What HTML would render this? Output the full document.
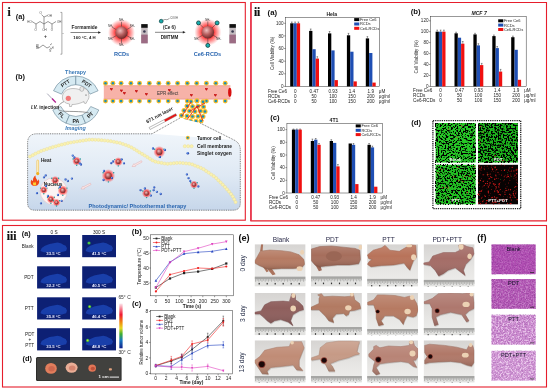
<!DOCTYPE html>
<html><head><meta charset="utf-8"><style>
html,body{margin:0;padding:0;background:#fff;width:550px;height:390px;overflow:hidden}
svg{display:block}
</style></head><body>
<svg width="550" height="390" viewBox="0 0 550 390" font-family="Liberation Sans, sans-serif">
<rect width="550" height="390" fill="#fff"/>
<defs><radialGradient id="glow"><stop offset="0" stop-color="#ff1010" stop-opacity="1"/><stop offset="0.5" stop-color="#ff2020" stop-opacity="0.8"/><stop offset="0.8" stop-color="#ff4040" stop-opacity="0.35"/><stop offset="1" stop-color="#ff6060" stop-opacity="0"/></radialGradient><radialGradient id="sph" cx="0.4" cy="0.35" r="0.75"><stop offset="0" stop-color="#f0c0c0"/><stop offset="0.45" stop-color="#b86060"/><stop offset="1" stop-color="#5a1818"/></radialGradient><radialGradient id="bd" cx="0.35" cy="0.35" r="0.7"><stop offset="0" stop-color="#70a8ff"/><stop offset="1" stop-color="#102890"/></radialGradient><linearGradient id="cellbg" x1="0" y1="0" x2="0" y2="1"><stop offset="0" stop-color="#f4f8fc"/><stop offset="0.6" stop-color="#dfe9f4"/><stop offset="1" stop-color="#c6d6ea"/></linearGradient></defs>
<text x="7.4" y="16.2" font-size="11.6" text-anchor="start" font-weight="bold" fill="#111" style="font-family:Liberation Serif,serif" stroke="#111" stroke-width="0.2">i</text>
<text x="15.8" y="19.2" font-size="7.4" text-anchor="start" font-weight="bold" fill="#111" >(a)</text>
<path d="M32,21.5 L36,24 L40,21.5 L44,24 L48,21.5 L52,24 L56,21.5 M36,24 V28.3 M44,24 L44,17 M44,24 L44,28 M52,24 V28.3 M44,17 L47.5,15.5 M44,17 L41.5,14.6" stroke="#444" stroke-width="0.55" fill="none"/>
<text x="27.3" y="23.0" font-size="2.9" text-anchor="start" font-weight="normal" fill="#444" >HO</text>
<text x="57.0" y="23.0" font-size="2.9" text-anchor="start" font-weight="normal" fill="#444" >OH</text>
<text x="34.6" y="31.0" font-size="2.9" text-anchor="start" font-weight="normal" fill="#444" >O</text>
<text x="50.8" y="31.0" font-size="2.9" text-anchor="start" font-weight="normal" fill="#444" >O</text>
<text x="42.2" y="31.0" font-size="2.9" text-anchor="start" font-weight="normal" fill="#444" >OH</text>
<text x="47.6" y="16.6" font-size="2.9" text-anchor="start" font-weight="normal" fill="#444" >OH</text>
<text x="39.6" y="14.4" font-size="2.9" text-anchor="start" font-weight="normal" fill="#444" >O</text>
<text x="45.4" y="38.2" font-size="5" text-anchor="middle" font-weight="bold" fill="#333" >+</text>
<path d="M36,46 L39,48 L43,45 L47,48 L50,46.5 M38,44 V49 M36.8,44 V49 M50,45 L52,43.5 M50,48 L52,49" stroke="#444" stroke-width="0.55" fill="none"/>
<text x="49.3" y="52.0" font-size="2.8" text-anchor="start" font-weight="normal" fill="#555" >N</text>
<text x="51.8" y="48.5" font-size="2.6" text-anchor="start" font-weight="normal" fill="#555" >H</text>
<path d="M60.4,12.4 H61.9 V54.2 H60.4" stroke="#555" stroke-width="0.5" fill="none"/>
<text x="62.6" y="33.8" font-size="2.4" text-anchor="start" font-weight="normal" fill="#555" >n</text>
<text x="84.4" y="28.8" font-size="4.8" text-anchor="middle" font-weight="bold" fill="#222" >Formamide</text>
<path d="M70.5,32.5 H99" stroke="#333" stroke-width="0.6"/><path d="M101,32.5 L98.2,31.2 L98.2,33.8Z" fill="#222"/>
<text x="84.5" y="39.0" font-size="4.3" text-anchor="middle" font-weight="bold" fill="#222" >160 °C, 4 H</text>
<circle cx="121.5" cy="32.6" r="13.5" fill="url(#glow)"/>
<line x1="121.5" y1="32.6" x2="121.5" y2="21.8" stroke="#333" stroke-width="0.5"/>
<text x="121.5" y="21.0" font-size="2.8" text-anchor="middle" font-weight="normal" fill="#333" >NH₂</text>
<line x1="121.5" y1="32.6" x2="130.9" y2="27.2" stroke="#333" stroke-width="0.5"/>
<text x="132.4" y="27.3" font-size="2.8" text-anchor="middle" font-weight="normal" fill="#333" >NH₂</text>
<line x1="121.5" y1="32.6" x2="130.9" y2="38.0" stroke="#333" stroke-width="0.5"/>
<text x="132.4" y="39.9" font-size="2.8" text-anchor="middle" font-weight="normal" fill="#333" >NH₂</text>
<line x1="121.5" y1="32.6" x2="121.5" y2="43.4" stroke="#333" stroke-width="0.5"/>
<text x="121.5" y="46.2" font-size="2.8" text-anchor="middle" font-weight="normal" fill="#333" >NH₂</text>
<line x1="121.5" y1="32.6" x2="112.1" y2="38.0" stroke="#333" stroke-width="0.5"/>
<text x="110.6" y="39.9" font-size="2.8" text-anchor="middle" font-weight="normal" fill="#333" >NH₂</text>
<line x1="121.5" y1="32.6" x2="112.1" y2="27.2" stroke="#333" stroke-width="0.5"/>
<text x="110.6" y="27.3" font-size="2.8" text-anchor="middle" font-weight="normal" fill="#333" >NH₂</text>
<circle cx="121.5" cy="32.6" r="6.3" fill="url(#sph)"/>
<text x="121.6" y="56.4" font-size="5.6" text-anchor="middle" font-weight="bold" fill="#2a66b0" >RCDs</text>
<rect x="141.2" y="24.1" width="6.5" height="3.8" fill="#111"/>
<rect x="141.2" y="27.900000000000002" width="6.5" height="15.4" fill="#c4bcc0"/>
<rect x="141.2" y="34.6" width="6.5" height="8.7" fill="#9c6c84"/>
<circle cx="144.39999999999998" cy="31.5" r="1.3" fill="#3a3a50"/>
<path d="M162.5,20.4 L165,19.4 L167,19.8 L169.5,18.4" stroke="#444" stroke-width="0.5" fill="none"/>
<circle cx="161.2" cy="21.2" r="1.9" fill="#1aa8a8" stroke="#083838" stroke-width="0.6"/>
<text x="170.2" y="18.8" font-size="2.6" text-anchor="start" font-weight="normal" fill="#444" >COOH</text>
<text x="169.3" y="29.4" font-size="4.6" text-anchor="middle" font-weight="bold" fill="#222" >(Ce 6)</text>
<path d="M155,32.3 H183.5" stroke="#333" stroke-width="0.6"/><path d="M185.6,32.3 L182.8,31 L182.8,33.6Z" fill="#222"/>
<text x="169.5" y="38.6" font-size="4.6" text-anchor="middle" font-weight="bold" fill="#222" >DMTMM</text>
<circle cx="207.8" cy="32.2" r="13.5" fill="url(#glow)"/>
<line x1="207.8" y1="32.2" x2="207.8" y2="21.4" stroke="#333" stroke-width="0.5"/>
<text x="207.8" y="20.6" font-size="2.8" text-anchor="middle" font-weight="normal" fill="#333" >NH₂</text>
<line x1="207.8" y1="32.2" x2="217.1" y2="22.9" stroke="#333" stroke-width="0.5"/>
<circle cx="217.1" cy="22.9" r="2.0" fill="#18b0b0" stroke="#062a2a" stroke-width="0.7"/>
<line x1="207.8" y1="32.2" x2="198.5" y2="22.9" stroke="#333" stroke-width="0.5"/>
<circle cx="198.5" cy="22.9" r="2.0" fill="#18b0b0" stroke="#062a2a" stroke-width="0.7"/>
<line x1="207.8" y1="32.2" x2="217.2" y2="37.6" stroke="#333" stroke-width="0.5"/>
<text x="218.7" y="39.5" font-size="2.8" text-anchor="middle" font-weight="normal" fill="#333" >NH₂</text>
<line x1="207.8" y1="32.2" x2="207.8" y2="45.4" stroke="#333" stroke-width="0.5"/>
<circle cx="207.8" cy="45.4" r="2.0" fill="#18b0b0" stroke="#062a2a" stroke-width="0.7"/>
<line x1="207.8" y1="32.2" x2="198.4" y2="37.6" stroke="#333" stroke-width="0.5"/>
<text x="196.9" y="39.5" font-size="2.8" text-anchor="middle" font-weight="normal" fill="#333" >NH₂</text>
<circle cx="207.8" cy="32.2" r="6.3" fill="url(#sph)"/>
<text x="207.4" y="56.4" font-size="5.6" text-anchor="middle" font-weight="bold" fill="#2a66b0" >Ce6-RCDs</text>
<rect x="229.4" y="24.1" width="6.5" height="3.8" fill="#111"/>
<rect x="229.4" y="27.900000000000002" width="6.5" height="15.4" fill="#c4bcc0"/>
<rect x="229.4" y="34.6" width="6.5" height="8.7" fill="#9c6c84"/>
<circle cx="232.6" cy="31.5" r="1.3" fill="#3a3a50"/>
<text x="15.5" y="79.3" font-size="7.4" text-anchor="start" font-weight="bold" fill="#111" >(b)</text>
<path d="M53.52,90.74 A24.2,24.2 0 0 1 75.80,76.00 L75.80,84.70 A15.5,15.5 0 0 0 61.53,94.14 Z" fill="#d6eaf2" stroke="#58788a" stroke-width="0.55"/>
<path d="M75.80,76.00 A24.2,24.2 0 0 1 98.08,90.74 L90.07,94.14 A15.5,15.5 0 0 0 75.80,84.70 Z" fill="#d6eaf2" stroke="#58788a" stroke-width="0.55"/>
<path d="M52.79,109.97 A25.0,25.0 0 0 0 66.03,123.21 L69.47,115.11 A16.2,16.2 0 0 1 60.89,106.53 Z" fill="#d6eaf2" stroke="#58788a" stroke-width="0.55"/>
<path d="M66.03,123.21 A25.0,25.0 0 0 0 85.57,123.21 L82.13,115.11 A16.2,16.2 0 0 1 69.47,115.11 Z" fill="#d6eaf2" stroke="#58788a" stroke-width="0.55"/>
<path d="M85.57,123.21 A25.0,25.0 0 0 0 98.81,109.97 L90.71,106.53 A16.2,16.2 0 0 1 82.13,115.11 Z" fill="#d6eaf2" stroke="#58788a" stroke-width="0.55"/>
<text x="0" y="0" font-size="5.2" font-weight="bold" text-anchor="middle" fill="#222" transform="translate(65.3,83.4) rotate(-33)" dy="1.8">PTT</text>
<text x="0" y="0" font-size="5.2" font-weight="bold" text-anchor="middle" fill="#222" transform="translate(86.6,83.6) rotate(33)" dy="1.8">PDT</text>
<text x="0" y="0" font-size="5.2" font-weight="bold" text-anchor="middle" fill="#222" transform="translate(61.5,115.0) rotate(45)" dy="1.8">FL</text>
<text x="0" y="0" font-size="5.2" font-weight="bold" text-anchor="middle" fill="#222" transform="translate(75.8,120.8) rotate(0)" dy="1.8">PA</text>
<text x="0" y="0" font-size="5.2" font-weight="bold" text-anchor="middle" fill="#222" transform="translate(90.1,115.0) rotate(-45)" dy="1.8">PT</text>
<text x="75.6" y="74.2" font-size="5.4" text-anchor="middle" font-weight="bold" fill="#3a7ab8" >Therapy</text>
<text x="75.6" y="129.6" font-size="5.4" text-anchor="middle" font-weight="bold" fill="#3a7ab8" font-style="italic" >Imaging</text>
<path d="M64,101.5 C59,104 56.5,107.5 58.5,109.8 C61.5,112.5 76,110.5 87,112.5 C90.5,113.2 91.5,115 90,116.5" stroke="#777" stroke-width="0.75" fill="none"/>
<path d="M62.5,99 C61.5,93 66,88.5 73,88.5 C77,88.5 79.5,89.5 81.5,90.5 L84,88.5 C86.5,88.5 88.5,91 88.5,93.5 C89.5,96 89,99 87.5,100.5 L86,103.5 L84,103 L84,101.5 C80,103.5 76,104.5 72,104.5 L71.5,106.5 L69.5,106.5 L69.5,104 C65.5,103.5 63,101.5 62.5,99Z" fill="#f0f0f0" stroke="#8a8a8a" stroke-width="0.5"/>
<ellipse cx="81.8" cy="88.9" rx="2.0" ry="2.5" fill="#e8e8e8" stroke="#8a8a8a" stroke-width="0.45"/>
<circle cx="86" cy="95" r="0.6" fill="#333"/>
<circle cx="68.3" cy="98.3" r="2.6" fill="#f26a6a" opacity="0.9"/>
<path d="M47.2,93.6 L52,98.6" stroke="#a0a0b0" stroke-width="0.9"/><path d="M52,98.6 L55.8,102.4" stroke="#b02090" stroke-width="1.4"/>
<text x="45.1" y="108.6" font-size="4.9" text-anchor="middle" font-weight="bold" fill="#222" ><tspan font-style="italic">I.V.</tspan> injection</text>
<rect x="103.8" y="85.5" width="126.5" height="14" fill="#f7b2a8"/>
<rect x="103.8" y="85.3" width="126.5" height="1.2" fill="#f0a8a0"/><rect x="103.8" y="98.1" width="126.5" height="1.2" fill="#f0a8a0"/>
<ellipse cx="229.8" cy="92.3" rx="1.7" ry="4.6" fill="#d81010"/>
<circle cx="105.5" cy="83.2" r="2.45" fill="#f8bc28"/><circle cx="105.5" cy="83.2" r="1.27" fill="#1a8fb5"/>
<circle cx="105.5" cy="101.1" r="2.45" fill="#f8bc28"/><circle cx="105.5" cy="101.1" r="1.27" fill="#1a8fb5"/>
<circle cx="112.9" cy="83.2" r="2.45" fill="#f8bc28"/><circle cx="112.9" cy="83.2" r="1.27" fill="#1a8fb5"/>
<circle cx="112.9" cy="101.1" r="2.45" fill="#f8bc28"/><circle cx="112.9" cy="101.1" r="1.27" fill="#1a8fb5"/>
<circle cx="121.1" cy="83.2" r="2.45" fill="#f8bc28"/><circle cx="121.1" cy="83.2" r="1.27" fill="#1a8fb5"/>
<circle cx="121.1" cy="101.1" r="2.45" fill="#f8bc28"/><circle cx="121.1" cy="101.1" r="1.27" fill="#1a8fb5"/>
<circle cx="130.9" cy="83.2" r="2.45" fill="#f8bc28"/><circle cx="130.9" cy="83.2" r="1.27" fill="#1a8fb5"/>
<circle cx="130.9" cy="101.1" r="2.45" fill="#f8bc28"/><circle cx="130.9" cy="101.1" r="1.27" fill="#1a8fb5"/>
<circle cx="139.5" cy="83.2" r="2.45" fill="#f8bc28"/><circle cx="139.5" cy="83.2" r="1.27" fill="#1a8fb5"/>
<circle cx="139.5" cy="101.1" r="2.45" fill="#f8bc28"/><circle cx="139.5" cy="101.1" r="1.27" fill="#1a8fb5"/>
<circle cx="149.3" cy="83.2" r="2.45" fill="#f8bc28"/><circle cx="149.3" cy="83.2" r="1.27" fill="#1a8fb5"/>
<circle cx="149.3" cy="101.1" r="2.45" fill="#f8bc28"/><circle cx="149.3" cy="101.1" r="1.27" fill="#1a8fb5"/>
<circle cx="158.8" cy="83.2" r="2.45" fill="#f8bc28"/><circle cx="158.8" cy="83.2" r="1.27" fill="#1a8fb5"/>
<circle cx="158.8" cy="101.1" r="2.45" fill="#f8bc28"/><circle cx="158.8" cy="101.1" r="1.27" fill="#1a8fb5"/>
<circle cx="168.2" cy="83.2" r="2.45" fill="#f8bc28"/><circle cx="168.2" cy="83.2" r="1.27" fill="#1a8fb5"/>
<circle cx="168.2" cy="101.1" r="2.45" fill="#f8bc28"/><circle cx="168.2" cy="101.1" r="1.27" fill="#1a8fb5"/>
<circle cx="177.6" cy="83.2" r="2.45" fill="#f8bc28"/><circle cx="177.6" cy="83.2" r="1.27" fill="#1a8fb5"/>
<circle cx="177.6" cy="101.1" r="2.45" fill="#f8bc28"/><circle cx="177.6" cy="101.1" r="1.27" fill="#1a8fb5"/>
<circle cx="187.3" cy="83.2" r="2.45" fill="#f8bc28"/><circle cx="187.3" cy="83.2" r="1.27" fill="#1a8fb5"/>
<circle cx="187.3" cy="101.1" r="2.45" fill="#f8bc28"/><circle cx="187.3" cy="101.1" r="1.27" fill="#1a8fb5"/>
<circle cx="196.7" cy="83.2" r="2.45" fill="#f8bc28"/><circle cx="196.7" cy="83.2" r="1.27" fill="#1a8fb5"/>
<circle cx="196.7" cy="101.1" r="2.45" fill="#f8bc28"/><circle cx="196.7" cy="101.1" r="1.27" fill="#1a8fb5"/>
<circle cx="206.4" cy="83.2" r="2.45" fill="#f8bc28"/><circle cx="206.4" cy="83.2" r="1.27" fill="#1a8fb5"/>
<circle cx="206.4" cy="101.1" r="2.45" fill="#f8bc28"/><circle cx="206.4" cy="101.1" r="1.27" fill="#1a8fb5"/>
<circle cx="215.8" cy="83.2" r="2.45" fill="#f8bc28"/><circle cx="215.8" cy="83.2" r="1.27" fill="#1a8fb5"/>
<circle cx="215.8" cy="101.1" r="2.45" fill="#f8bc28"/><circle cx="215.8" cy="101.1" r="1.27" fill="#1a8fb5"/>
<circle cx="225.2" cy="83.2" r="2.45" fill="#f8bc28"/><circle cx="225.2" cy="83.2" r="1.27" fill="#1a8fb5"/>
<circle cx="225.2" cy="101.1" r="2.45" fill="#f8bc28"/><circle cx="225.2" cy="101.1" r="1.27" fill="#1a8fb5"/>
<path d="M110,89 l1.4,1.8 l1.4,-1.8 a0.8,0.8 0 0 0 -1.4,-0.7 a0.8,0.8 0 0 0 -1.4,0.7z" fill="#c81818"/>
<path d="M123,93 l1.4,1.8 l1.4,-1.8 a0.8,0.8 0 0 0 -1.4,-0.7 a0.8,0.8 0 0 0 -1.4,0.7z" fill="#c81818"/>
<path d="M135,91 l1.4,1.8 l1.4,-1.8 a0.8,0.8 0 0 0 -1.4,-0.7 a0.8,0.8 0 0 0 -1.4,0.7z" fill="#c81818"/>
<path d="M145,94 l1.4,1.8 l1.4,-1.8 a0.8,0.8 0 0 0 -1.4,-0.7 a0.8,0.8 0 0 0 -1.4,0.7z" fill="#c81818"/>
<path d="M168,90 l1.4,1.8 l1.4,-1.8 a0.8,0.8 0 0 0 -1.4,-0.7 a0.8,0.8 0 0 0 -1.4,0.7z" fill="#c81818"/>
<path d="M190,95 l1.4,1.8 l1.4,-1.8 a0.8,0.8 0 0 0 -1.4,-0.7 a0.8,0.8 0 0 0 -1.4,0.7z" fill="#c81818"/>
<path d="M205,89 l1.4,1.8 l1.4,-1.8 a0.8,0.8 0 0 0 -1.4,-0.7 a0.8,0.8 0 0 0 -1.4,0.7z" fill="#c81818"/>
<path d="M214,95 l1.4,1.8 l1.4,-1.8 a0.8,0.8 0 0 0 -1.4,-0.7 a0.8,0.8 0 0 0 -1.4,0.7z" fill="#c81818"/>
<path d="M120,90.5 l1.4,1.8 l1.4,-1.8 a0.8,0.8 0 0 0 -1.4,-0.7 a0.8,0.8 0 0 0 -1.4,0.7z" fill="#c81818"/>
<text x="167.6" y="94.9" font-size="4.5" text-anchor="middle" font-weight="normal" fill="#333" >EPR effect</text>
<circle cx="191.0" cy="101.5" r="2.5" fill="#f8bc28"/><circle cx="191.0" cy="101.5" r="1.30" fill="#1a8fb5"/>
<circle cx="197.0" cy="100.8" r="2.5" fill="#f8bc28"/><circle cx="197.0" cy="100.8" r="1.30" fill="#1a8fb5"/>
<circle cx="203.0" cy="101.8" r="2.5" fill="#f8bc28"/><circle cx="203.0" cy="101.8" r="1.30" fill="#1a8fb5"/>
<circle cx="187.0" cy="106.0" r="2.5" fill="#f8bc28"/><circle cx="187.0" cy="106.0" r="1.30" fill="#1a8fb5"/>
<circle cx="192.5" cy="106.5" r="2.5" fill="#f8bc28"/><circle cx="192.5" cy="106.5" r="1.30" fill="#1a8fb5"/>
<circle cx="198.0" cy="106.2" r="2.5" fill="#f8bc28"/><circle cx="198.0" cy="106.2" r="1.30" fill="#1a8fb5"/>
<circle cx="203.5" cy="106.8" r="2.5" fill="#f8bc28"/><circle cx="203.5" cy="106.8" r="1.30" fill="#1a8fb5"/>
<circle cx="184.0" cy="110.5" r="2.5" fill="#f8bc28"/><circle cx="184.0" cy="110.5" r="1.30" fill="#1a8fb5"/>
<circle cx="189.5" cy="111.0" r="2.5" fill="#f8bc28"/><circle cx="189.5" cy="111.0" r="1.30" fill="#1a8fb5"/>
<circle cx="195.0" cy="111.5" r="2.5" fill="#f8bc28"/><circle cx="195.0" cy="111.5" r="1.30" fill="#1a8fb5"/>
<circle cx="200.5" cy="111.0" r="2.5" fill="#f8bc28"/><circle cx="200.5" cy="111.0" r="1.30" fill="#1a8fb5"/>
<circle cx="205.0" cy="111.5" r="2.5" fill="#f8bc28"/><circle cx="205.0" cy="111.5" r="1.30" fill="#1a8fb5"/>
<circle cx="181.5" cy="115.5" r="2.5" fill="#f8bc28"/><circle cx="181.5" cy="115.5" r="1.30" fill="#1a8fb5"/>
<circle cx="187.0" cy="116.0" r="2.5" fill="#f8bc28"/><circle cx="187.0" cy="116.0" r="1.30" fill="#1a8fb5"/>
<circle cx="192.5" cy="116.5" r="2.5" fill="#f8bc28"/><circle cx="192.5" cy="116.5" r="1.30" fill="#1a8fb5"/>
<circle cx="198.0" cy="116.2" r="2.5" fill="#f8bc28"/><circle cx="198.0" cy="116.2" r="1.30" fill="#1a8fb5"/>
<circle cx="203.0" cy="116.5" r="2.5" fill="#f8bc28"/><circle cx="203.0" cy="116.5" r="1.30" fill="#1a8fb5"/>
<circle cx="185.0" cy="120.5" r="2.5" fill="#f8bc28"/><circle cx="185.0" cy="120.5" r="1.30" fill="#1a8fb5"/>
<circle cx="190.5" cy="121.0" r="2.5" fill="#f8bc28"/><circle cx="190.5" cy="121.0" r="1.30" fill="#1a8fb5"/>
<circle cx="196.0" cy="121.2" r="2.5" fill="#f8bc28"/><circle cx="196.0" cy="121.2" r="1.30" fill="#1a8fb5"/>
<circle cx="201.0" cy="121.0" r="2.5" fill="#f8bc28"/><circle cx="201.0" cy="121.0" r="1.30" fill="#1a8fb5"/>
<circle cx="191.0" cy="125.0" r="2.5" fill="#f8bc28"/><circle cx="191.0" cy="125.0" r="1.30" fill="#1a8fb5"/>
<path d="M182,116 L191,102 M186,121 L197,106 L203,121 M190,111 L205,103" stroke="#e01818" stroke-width="0.8" fill="none"/>
<g transform="translate(149.6,128.5) rotate(-27.5)"><rect x="0" y="-1.1" width="30" height="2.2" fill="#fff" stroke="#777" stroke-width="0.45"/><rect x="17" y="-1.1" width="13" height="2.2" fill="#e01818"/></g>
<text x="0" y="0" font-size="4.9" font-weight="bold" fill="#222" transform="translate(147.2,123.4) rotate(-28)">671 nm laser</text>
<path d="M152,133.8 L37,133.8 Q27.6,133.8 27.6,143 L27.6,203 Q27.6,210.2 35,210.2 L233,210.2 Q240.3,210.2 240.3,203 L240.3,150 Q240.3,143 234,140 L200,123" fill="url(#cellbg)" stroke="none"/>
<path d="M152,133.8 L180,118 L200,123 L234,140 Z" fill="#fff"/>
<path d="M180,118 L152,133.8 L37,133.8 Q27.6,133.8 27.6,143 L27.6,203 Q27.6,210.2 35,210.2 L233,210.2 Q240.3,210.2 240.3,203 L240.3,150 Q240.3,143 234,140 L200,123" fill="none" stroke="#444" stroke-width="0.75" stroke-dasharray="0.9 0.9"/>
<circle cx="30.0" cy="156.6" r="1.6" fill="#faf2b0" stroke="#e8da8c" stroke-width="0.35"/>
<circle cx="32.8" cy="155.2" r="1.6" fill="#faf2b0" stroke="#e8da8c" stroke-width="0.35"/>
<circle cx="35.5" cy="153.7" r="1.6" fill="#faf2b0" stroke="#e8da8c" stroke-width="0.35"/>
<circle cx="38.3" cy="152.3" r="1.6" fill="#faf2b0" stroke="#e8da8c" stroke-width="0.35"/>
<circle cx="41.1" cy="151.0" r="1.6" fill="#faf2b0" stroke="#e8da8c" stroke-width="0.35"/>
<circle cx="44.0" cy="150.0" r="1.6" fill="#faf2b0" stroke="#e8da8c" stroke-width="0.35"/>
<circle cx="46.9" cy="149.0" r="1.6" fill="#faf2b0" stroke="#e8da8c" stroke-width="0.35"/>
<circle cx="49.9" cy="148.0" r="1.6" fill="#faf2b0" stroke="#e8da8c" stroke-width="0.35"/>
<circle cx="52.8" cy="147.1" r="1.6" fill="#faf2b0" stroke="#e8da8c" stroke-width="0.35"/>
<circle cx="55.8" cy="146.3" r="1.6" fill="#faf2b0" stroke="#e8da8c" stroke-width="0.35"/>
<circle cx="58.8" cy="145.4" r="1.6" fill="#faf2b0" stroke="#e8da8c" stroke-width="0.35"/>
<circle cx="61.8" cy="144.6" r="1.6" fill="#faf2b0" stroke="#e8da8c" stroke-width="0.35"/>
<circle cx="64.8" cy="143.9" r="1.6" fill="#faf2b0" stroke="#e8da8c" stroke-width="0.35"/>
<circle cx="67.8" cy="143.1" r="1.6" fill="#faf2b0" stroke="#e8da8c" stroke-width="0.35"/>
<circle cx="70.8" cy="142.5" r="1.6" fill="#faf2b0" stroke="#e8da8c" stroke-width="0.35"/>
<circle cx="73.9" cy="142.0" r="1.6" fill="#faf2b0" stroke="#e8da8c" stroke-width="0.35"/>
<circle cx="77.0" cy="141.5" r="1.6" fill="#faf2b0" stroke="#e8da8c" stroke-width="0.35"/>
<circle cx="80.0" cy="141.0" r="1.6" fill="#faf2b0" stroke="#e8da8c" stroke-width="0.35"/>
<circle cx="83.1" cy="140.6" r="1.6" fill="#faf2b0" stroke="#e8da8c" stroke-width="0.35"/>
<circle cx="86.2" cy="140.1" r="1.6" fill="#faf2b0" stroke="#e8da8c" stroke-width="0.35"/>
<circle cx="89.2" cy="139.7" r="1.6" fill="#faf2b0" stroke="#e8da8c" stroke-width="0.35"/>
<circle cx="92.3" cy="139.7" r="1.6" fill="#faf2b0" stroke="#e8da8c" stroke-width="0.35"/>
<circle cx="95.4" cy="139.8" r="1.6" fill="#faf2b0" stroke="#e8da8c" stroke-width="0.35"/>
<circle cx="98.5" cy="139.9" r="1.6" fill="#faf2b0" stroke="#e8da8c" stroke-width="0.35"/>
<circle cx="101.6" cy="140.2" r="1.6" fill="#faf2b0" stroke="#e8da8c" stroke-width="0.35"/>
<circle cx="104.7" cy="140.5" r="1.6" fill="#faf2b0" stroke="#e8da8c" stroke-width="0.35"/>
<circle cx="107.8" cy="140.8" r="1.6" fill="#faf2b0" stroke="#e8da8c" stroke-width="0.35"/>
<circle cx="110.8" cy="141.2" r="1.6" fill="#faf2b0" stroke="#e8da8c" stroke-width="0.35"/>
<circle cx="113.9" cy="141.8" r="1.6" fill="#faf2b0" stroke="#e8da8c" stroke-width="0.35"/>
<circle cx="116.9" cy="142.4" r="1.6" fill="#faf2b0" stroke="#e8da8c" stroke-width="0.35"/>
<circle cx="120.0" cy="143.0" r="1.6" fill="#faf2b0" stroke="#e8da8c" stroke-width="0.35"/>
<circle cx="122.9" cy="144.0" r="1.6" fill="#faf2b0" stroke="#e8da8c" stroke-width="0.35"/>
<circle cx="125.8" cy="145.0" r="1.6" fill="#faf2b0" stroke="#e8da8c" stroke-width="0.35"/>
<circle cx="128.7" cy="146.1" r="1.6" fill="#faf2b0" stroke="#e8da8c" stroke-width="0.35"/>
<circle cx="131.5" cy="147.4" r="1.6" fill="#faf2b0" stroke="#e8da8c" stroke-width="0.35"/>
<circle cx="134.2" cy="149.0" r="1.6" fill="#faf2b0" stroke="#e8da8c" stroke-width="0.35"/>
<circle cx="136.8" cy="150.6" r="1.6" fill="#faf2b0" stroke="#e8da8c" stroke-width="0.35"/>
<circle cx="139.4" cy="152.3" r="1.6" fill="#faf2b0" stroke="#e8da8c" stroke-width="0.35"/>
<circle cx="142.1" cy="153.9" r="1.6" fill="#faf2b0" stroke="#e8da8c" stroke-width="0.35"/>
<circle cx="144.7" cy="155.5" r="1.6" fill="#faf2b0" stroke="#e8da8c" stroke-width="0.35"/>
<circle cx="147.4" cy="157.1" r="1.6" fill="#faf2b0" stroke="#e8da8c" stroke-width="0.35"/>
<circle cx="150.0" cy="158.8" r="1.6" fill="#faf2b0" stroke="#e8da8c" stroke-width="0.35"/>
<circle cx="152.6" cy="160.4" r="1.6" fill="#faf2b0" stroke="#e8da8c" stroke-width="0.35"/>
<circle cx="155.4" cy="161.7" r="1.6" fill="#faf2b0" stroke="#e8da8c" stroke-width="0.35"/>
<circle cx="158.4" cy="162.3" r="1.6" fill="#faf2b0" stroke="#e8da8c" stroke-width="0.35"/>
<circle cx="161.5" cy="162.9" r="1.6" fill="#faf2b0" stroke="#e8da8c" stroke-width="0.35"/>
<circle cx="164.5" cy="163.5" r="1.6" fill="#faf2b0" stroke="#e8da8c" stroke-width="0.35"/>
<circle cx="167.6" cy="163.8" r="1.6" fill="#faf2b0" stroke="#e8da8c" stroke-width="0.35"/>
<circle cx="170.7" cy="163.5" r="1.6" fill="#faf2b0" stroke="#e8da8c" stroke-width="0.35"/>
<circle cx="173.8" cy="163.2" r="1.6" fill="#faf2b0" stroke="#e8da8c" stroke-width="0.35"/>
<circle cx="176.8" cy="162.9" r="1.6" fill="#faf2b0" stroke="#e8da8c" stroke-width="0.35"/>
<circle cx="179.9" cy="162.8" r="1.6" fill="#faf2b0" stroke="#e8da8c" stroke-width="0.35"/>
<circle cx="183.0" cy="163.1" r="1.6" fill="#faf2b0" stroke="#e8da8c" stroke-width="0.35"/>
<circle cx="186.1" cy="163.4" r="1.6" fill="#faf2b0" stroke="#e8da8c" stroke-width="0.35"/>
<circle cx="189.2" cy="163.7" r="1.6" fill="#faf2b0" stroke="#e8da8c" stroke-width="0.35"/>
<circle cx="192.2" cy="164.4" r="1.6" fill="#faf2b0" stroke="#e8da8c" stroke-width="0.35"/>
<circle cx="195.0" cy="165.6" r="1.6" fill="#faf2b0" stroke="#e8da8c" stroke-width="0.35"/>
<circle cx="197.9" cy="166.7" r="1.6" fill="#faf2b0" stroke="#e8da8c" stroke-width="0.35"/>
<circle cx="200.8" cy="167.9" r="1.6" fill="#faf2b0" stroke="#e8da8c" stroke-width="0.35"/>
<circle cx="203.6" cy="169.2" r="1.6" fill="#faf2b0" stroke="#e8da8c" stroke-width="0.35"/>
<circle cx="206.1" cy="171.0" r="1.6" fill="#faf2b0" stroke="#e8da8c" stroke-width="0.35"/>
<circle cx="208.7" cy="172.7" r="1.6" fill="#faf2b0" stroke="#e8da8c" stroke-width="0.35"/>
<circle cx="211.3" cy="174.5" r="1.6" fill="#faf2b0" stroke="#e8da8c" stroke-width="0.35"/>
<circle cx="213.8" cy="176.2" r="1.6" fill="#faf2b0" stroke="#e8da8c" stroke-width="0.35"/>
<circle cx="216.2" cy="178.1" r="1.6" fill="#faf2b0" stroke="#e8da8c" stroke-width="0.35"/>
<circle cx="218.4" cy="180.3" r="1.6" fill="#faf2b0" stroke="#e8da8c" stroke-width="0.35"/>
<circle cx="220.6" cy="182.5" r="1.6" fill="#faf2b0" stroke="#e8da8c" stroke-width="0.35"/>
<circle cx="222.8" cy="184.7" r="1.6" fill="#faf2b0" stroke="#e8da8c" stroke-width="0.35"/>
<circle cx="225.0" cy="187.0" r="1.6" fill="#faf2b0" stroke="#e8da8c" stroke-width="0.35"/>
<circle cx="227.0" cy="189.3" r="1.6" fill="#faf2b0" stroke="#e8da8c" stroke-width="0.35"/>
<circle cx="229.0" cy="191.6" r="1.6" fill="#faf2b0" stroke="#e8da8c" stroke-width="0.35"/>
<circle cx="231.0" cy="194.0" r="1.6" fill="#faf2b0" stroke="#e8da8c" stroke-width="0.35"/>
<circle cx="232.8" cy="196.5" r="1.6" fill="#faf2b0" stroke="#e8da8c" stroke-width="0.35"/>
<circle cx="234.2" cy="199.3" r="1.6" fill="#faf2b0" stroke="#e8da8c" stroke-width="0.35"/>
<circle cx="235.6" cy="202.1" r="1.6" fill="#faf2b0" stroke="#e8da8c" stroke-width="0.35"/>
<circle cx="187.8" cy="137.8" r="2.0" fill="#f8bc28"/><circle cx="187.8" cy="137.8" r="1.04" fill="#1a8fb5"/>
<text x="197.0" y="139.8" font-size="4.9" text-anchor="start" font-weight="bold" fill="#222" >Tumor cell</text>
<circle cx="184.8" cy="146.2" r="1.6" fill="#faf2b0" stroke="#e8da8c" stroke-width="0.35"/>
<circle cx="188.2" cy="146.2" r="1.6" fill="#faf2b0" stroke="#e8da8c" stroke-width="0.35"/>
<circle cx="191.6" cy="146.2" r="1.6" fill="#faf2b0" stroke="#e8da8c" stroke-width="0.35"/>
<text x="197.0" y="148.0" font-size="4.9" text-anchor="start" font-weight="bold" fill="#222" >Cell membrane</text>
<circle cx="187.8" cy="153.3" r="1.3" fill="url(#bd)"/>
<text x="197.0" y="155.4" font-size="4.9" text-anchor="start" font-weight="bold" fill="#222" >Singlet oxygen</text>
<text x="40.9" y="162.0" font-size="4.8" text-anchor="start" font-weight="bold" fill="#222" >Heat</text>
<rect x="36.8" y="160" width="1.8" height="13" rx="0.9" fill="#fff6d0" stroke="#f0b020" stroke-width="0.5"/><circle cx="37.7" cy="173.6" r="1.6" fill="#f0b020"/>
<path d="M34.5,186 C30.5,186 30,182 31.5,179.5 C32,181 33,181.5 33,180 C33,178 34,176.5 35.5,175.5 C35.2,178 37,179 37.5,181 C38.5,180.5 38.6,179.6 38.5,179 C40,181 39.5,186 34.5,186Z" fill="#f04818"/>
<path d="M34.6,185.6 C33,185.6 32.4,183.6 33.6,182 C34,183 34.8,183 35,181.4 C36.5,183 36.6,185.6 34.6,185.6Z" fill="#ffd030"/>
<circle cx="53.6" cy="191.3" r="13.4" fill="#fbf4f4" stroke="#e8b8b8" stroke-width="0.5"/>
<text x="53.2" y="185.9" font-size="4.8" text-anchor="middle" font-weight="bold" fill="#222" >Nucleus</text>
<circle cx="55.2" cy="180.2" r="4.3" fill="url(#glow)"/>
<circle cx="55.2" cy="180.2" r="2.1" fill="url(#sph)"/>
<circle cx="58.6" cy="178.2" r="0.7" fill="#1a9a9a"/>
<circle cx="51.8" cy="178.2" r="0.7" fill="#1a9a9a"/>
<circle cx="55.2" cy="184.1" r="0.7" fill="#1a9a9a"/>
<circle cx="43.8" cy="190.0" r="4.1" fill="url(#glow)"/>
<circle cx="43.8" cy="190.0" r="2.0" fill="url(#sph)"/>
<circle cx="47.0" cy="188.1" r="0.7" fill="#1a9a9a"/>
<circle cx="40.6" cy="188.1" r="0.7" fill="#1a9a9a"/>
<circle cx="43.8" cy="193.7" r="0.7" fill="#1a9a9a"/>
<circle cx="62.8" cy="190.5" r="5.3" fill="url(#glow)"/>
<circle cx="62.8" cy="190.5" r="2.5" fill="url(#sph)"/>
<circle cx="67.0" cy="188.1" r="0.7" fill="#1a9a9a"/>
<circle cx="58.6" cy="188.1" r="0.7" fill="#1a9a9a"/>
<circle cx="62.8" cy="195.3" r="0.7" fill="#1a9a9a"/>
<circle cx="50.9" cy="199.3" r="4.3" fill="url(#glow)"/>
<circle cx="50.9" cy="199.3" r="2.1" fill="url(#sph)"/>
<circle cx="54.3" cy="197.3" r="0.7" fill="#1a9a9a"/>
<circle cx="47.5" cy="197.3" r="0.7" fill="#1a9a9a"/>
<circle cx="50.9" cy="203.2" r="0.7" fill="#1a9a9a"/>
<circle cx="56.5" cy="202.5" r="3.9" fill="url(#glow)"/>
<circle cx="56.5" cy="202.5" r="1.8" fill="url(#sph)"/>
<circle cx="59.5" cy="200.8" r="0.7" fill="#1a9a9a"/>
<circle cx="53.5" cy="200.8" r="0.7" fill="#1a9a9a"/>
<circle cx="56.5" cy="206.0" r="0.7" fill="#1a9a9a"/>
<circle cx="76.7" cy="161.1" r="4.6" fill="url(#glow)"/>
<circle cx="76.7" cy="161.1" r="2.2" fill="url(#sph)"/>
<circle cx="80.3" cy="159.0" r="0.7" fill="#1a9a9a"/>
<circle cx="73.1" cy="159.0" r="0.7" fill="#1a9a9a"/>
<circle cx="76.7" cy="165.3" r="0.7" fill="#1a9a9a"/>
<circle cx="118.3" cy="161.7" r="4.6" fill="url(#glow)"/>
<circle cx="118.3" cy="161.7" r="2.2" fill="url(#sph)"/>
<circle cx="121.9" cy="159.6" r="0.7" fill="#1a9a9a"/>
<circle cx="114.7" cy="159.6" r="0.7" fill="#1a9a9a"/>
<circle cx="118.3" cy="165.9" r="0.7" fill="#1a9a9a"/>
<circle cx="108.4" cy="175.8" r="6.8" fill="url(#glow)"/>
<circle cx="108.4" cy="175.8" r="3.2" fill="url(#sph)"/>
<circle cx="113.7" cy="172.7" r="0.7" fill="#1a9a9a"/>
<circle cx="103.1" cy="172.7" r="0.7" fill="#1a9a9a"/>
<circle cx="108.4" cy="181.9" r="0.7" fill="#1a9a9a"/>
<circle cx="146.6" cy="193.2" r="4.8" fill="url(#glow)"/>
<circle cx="146.6" cy="193.2" r="2.3" fill="url(#sph)"/>
<circle cx="150.4" cy="191.0" r="0.7" fill="#1a9a9a"/>
<circle cx="142.8" cy="191.0" r="0.7" fill="#1a9a9a"/>
<circle cx="146.6" cy="197.6" r="0.7" fill="#1a9a9a"/>
<circle cx="159.3" cy="151.9" r="6.0" fill="url(#glow)"/>
<circle cx="159.3" cy="151.9" r="2.9" fill="url(#sph)"/>
<circle cx="164.0" cy="149.2" r="0.7" fill="#1a9a9a"/>
<circle cx="154.6" cy="149.2" r="0.7" fill="#1a9a9a"/>
<circle cx="159.3" cy="157.4" r="0.7" fill="#1a9a9a"/>
<circle cx="194.0" cy="184.6" r="4.1" fill="url(#glow)"/>
<circle cx="194.0" cy="184.6" r="2.0" fill="url(#sph)"/>
<circle cx="197.2" cy="182.7" r="0.7" fill="#1a9a9a"/>
<circle cx="190.8" cy="182.7" r="0.7" fill="#1a9a9a"/>
<circle cx="194.0" cy="188.3" r="0.7" fill="#1a9a9a"/>
<circle cx="45.7" cy="175.4" r="1.15" fill="url(#bd)"/>
<circle cx="44.0" cy="177.3" r="1.15" fill="url(#bd)"/>
<circle cx="37.0" cy="193.2" r="1.15" fill="url(#bd)"/>
<circle cx="41.0" cy="203.3" r="1.15" fill="url(#bd)"/>
<circle cx="65.5" cy="179.4" r="1.15" fill="url(#bd)"/>
<circle cx="67.9" cy="181.0" r="1.15" fill="url(#bd)"/>
<circle cx="71.9" cy="178.6" r="1.15" fill="url(#bd)"/>
<circle cx="72.7" cy="155.6" r="1.15" fill="url(#bd)"/>
<circle cx="61.6" cy="200.9" r="1.15" fill="url(#bd)"/>
<circle cx="74.3" cy="157.5" r="1.15" fill="url(#bd)"/>
<circle cx="79.7" cy="163.3" r="1.15" fill="url(#bd)"/>
<circle cx="81.0" cy="164.5" r="1.15" fill="url(#bd)"/>
<circle cx="111.2" cy="163.2" r="1.15" fill="url(#bd)"/>
<circle cx="113.0" cy="161.5" r="1.15" fill="url(#bd)"/>
<circle cx="121.6" cy="159.4" r="1.15" fill="url(#bd)"/>
<circle cx="124.0" cy="163.3" r="1.15" fill="url(#bd)"/>
<circle cx="104.0" cy="171.0" r="1.15" fill="url(#bd)"/>
<circle cx="112.0" cy="178.0" r="1.15" fill="url(#bd)"/>
<circle cx="103.5" cy="180.0" r="1.15" fill="url(#bd)"/>
<circle cx="140.5" cy="190.2" r="1.15" fill="url(#bd)"/>
<circle cx="144.9" cy="188.5" r="1.15" fill="url(#bd)"/>
<circle cx="153.6" cy="190.2" r="1.15" fill="url(#bd)"/>
<circle cx="154.2" cy="187.4" r="1.15" fill="url(#bd)"/>
<circle cx="156.9" cy="191.8" r="1.15" fill="url(#bd)"/>
<circle cx="160.7" cy="194.0" r="1.15" fill="url(#bd)"/>
<circle cx="150.9" cy="195.6" r="1.15" fill="url(#bd)"/>
<circle cx="153.0" cy="148.5" r="1.15" fill="url(#bd)"/>
<circle cx="165.0" cy="150.0" r="1.15" fill="url(#bd)"/>
<circle cx="160.0" cy="157.0" r="1.15" fill="url(#bd)"/>
<circle cx="186.9" cy="174.4" r="1.15" fill="url(#bd)"/>
<circle cx="188.5" cy="178.2" r="1.15" fill="url(#bd)"/>
<circle cx="190.2" cy="180.9" r="1.15" fill="url(#bd)"/>
<circle cx="198.3" cy="186.4" r="1.15" fill="url(#bd)"/>
<circle cx="46.0" cy="186.0" r="1.15" fill="url(#bd)"/>
<circle cx="60.0" cy="187.0" r="1.15" fill="url(#bd)"/>
<circle cx="58.0" cy="195.0" r="1.15" fill="url(#bd)"/>
<circle cx="48.0" cy="196.0" r="1.15" fill="url(#bd)"/>
<g transform="translate(81,189) rotate(-28)"><path d="M0,0 l3,-1.6 v0.8 h8 v1.6 h-8 v0.8z" fill="#fbe8e8" stroke="#e0a0a0" stroke-width="0.35"/></g>
<g transform="translate(132,166.5) rotate(-28)"><path d="M0,0 l3,-1.6 v0.8 h8 v1.6 h-8 v0.8z" fill="#fbe8e8" stroke="#e0a0a0" stroke-width="0.35"/></g>
<text x="137.5" y="208.2" font-size="5.5" text-anchor="middle" font-weight="bold" fill="#2a66b0" >Photodynamic/ Photothermal therapy</text>
<defs><linearGradient id="pbg" x1="0" y1="0" x2="0" y2="1"><stop offset="0" stop-color="#d6d4d2"/><stop offset="0.55" stop-color="#e6e5e3"/><stop offset="1" stop-color="#efefed"/></linearGradient><linearGradient id="mshade" x1="0" y1="0" x2="0" y2="1"><stop offset="0" stop-color="#fff" stop-opacity="0.14"/><stop offset="0.45" stop-color="#fff" stop-opacity="0"/><stop offset="1" stop-color="#000" stop-opacity="0.16"/></linearGradient><clipPath id="mclip"><rect x="0" y="0" width="51" height="42.3"/></clipPath></defs>
<text x="238.4" y="240.6" font-size="9.2" text-anchor="start" font-weight="bold" fill="#111" >(e)</text>
<text x="281.0" y="241.5" font-size="6.6" text-anchor="middle" font-weight="normal" fill="#2a2a48" >Blank</text>
<text x="332.3" y="241.5" font-size="6.6" text-anchor="middle" font-weight="normal" fill="#2a2a48" >PDT</text>
<text x="388.5" y="241.5" font-size="6.6" text-anchor="middle" font-weight="normal" fill="#2a2a48" >PTT</text>
<text x="447.2" y="241.5" font-size="6.6" text-anchor="middle" font-weight="normal" fill="#2a2a48" >PDT+PTT</text>
<text x="0" y="0" font-size="6.7" text-anchor="middle" fill="#28304a" transform="translate(245.3,263.4) rotate(-90)">0 day</text>
<text x="0" y="0" font-size="6.7" text-anchor="middle" fill="#28304a" transform="translate(244.9,313.7) rotate(-90)">3 day</text>
<text x="0" y="0" font-size="6.7" text-anchor="middle" fill="#28304a" transform="translate(243.8,362.5) rotate(-90)">13 day</text>
<g transform="translate(254.6,244.2)" clip-path="url(#mclip)">
<rect x="0" y="0" width="51" height="42.3" fill="url(#pbg)"/>
<rect x="0" y="32.5" width="51" height="9.8" fill="#e2e2e0"/>
<rect x="0" y="32.5" width="51" height="2.4" fill="#a6a6a4"/>
<path d="M1.0,34.9v2.6M2.6,34.9v1.6M4.2,34.9v2.6M5.8,34.9v1.6M7.4,34.9v2.6M9.0,34.9v1.6M10.6,34.9v2.6M12.2,34.9v1.6M13.8,34.9v2.6M15.4,34.9v1.6M17.0,34.9v2.6M18.6,34.9v1.6M20.2,34.9v2.6M21.8,34.9v1.6M23.4,34.9v2.6M25.0,34.9v1.6M26.6,34.9v2.6M28.2,34.9v1.6M29.8,34.9v2.6M31.4,34.9v1.6M33.0,34.9v2.6M34.6,34.9v1.6M36.2,34.9v2.6M37.8,34.9v1.6M39.4,34.9v2.6M41.0,34.9v1.6M42.6,34.9v2.6M44.2,34.9v1.6M45.8,34.9v2.6M47.4,34.9v1.6M49.0,34.9v2.6M50.6,34.9v1.6" stroke="#555" stroke-width="0.35"/>
<rect x="4.0" y="38.7" width="1.2" height="1.6" fill="#333"/>
<rect x="12.0" y="38.7" width="1.2" height="1.6" fill="#333"/>
<rect x="20.0" y="38.7" width="1.2" height="1.6" fill="#333"/>
<rect x="28.0" y="38.7" width="1.2" height="1.6" fill="#333"/>
<rect x="36.0" y="38.7" width="1.2" height="1.6" fill="#333"/>
<rect x="44.0" y="38.7" width="1.2" height="1.6" fill="#333"/>
<path d="M5.5,7.0 L6.5,0.0 L8.5,0.0 L8.0,7.0Z" fill="#ab735d"/>
<path d="M8.0,22.0 L12.0,28.0 L14.0,27.0 L11.0,22.0Z" fill="#ab735d"/>
<path d="M12.0,24.0 L18.0,31.0 L21.0,30.0 L17.0,24.0Z" fill="#ab735d"/>
<path d="M0.4,16.5 L5.7,7.0 L15.1,5.9 L26.9,6.5 L36.3,7.7 L44.6,10.6 L49.3,15.3 L49.9,20.1 L46.9,23.6 L38.7,24.2 L26.9,24.2 L18.6,24.8 L11.6,24.2 L4.5,21.2 L0.4,18.9Z" fill="#000" opacity="0.12" transform="translate(0.4,1.2)" filter="url(#tblur)"/>
<path d="M0.4,16.5 L5.7,7.0 L15.1,5.9 L26.9,6.5 L36.3,7.7 L44.6,10.6 L49.3,15.3 L49.9,20.1 L46.9,23.6 L38.7,24.2 L26.9,24.2 L18.6,24.8 L11.6,24.2 L4.5,21.2 L0.4,18.9Z" fill="#b57a62" stroke="#996753" stroke-width="0.5" stroke-linejoin="round"/>
<path d="M0.4,16.5 L5.7,7.0 L15.1,5.9 L26.9,6.5 L36.3,7.7 L44.6,10.6 L49.3,15.3 L49.9,20.1 L46.9,23.6 L38.7,24.2 L26.9,24.2 L18.6,24.8 L11.6,24.2 L4.5,21.2 L0.4,18.9Z" fill="url(#mshade)"/>
<ellipse cx="45" cy="24.5" rx="3" ry="2.4" fill="#ecd2b4"/>
<ellipse cx="47.5" cy="8" rx="2" ry="2.5" fill="#ecd2b4"/>
</g>
<g transform="translate(310.9,244.2)" clip-path="url(#mclip)">
<rect x="0" y="0" width="51" height="42.3" fill="url(#pbg)"/>
<rect x="0" y="32.2" width="51" height="10.1" fill="#e2e2e0"/>
<rect x="0" y="32.2" width="51" height="2.4" fill="#a6a6a4"/>
<path d="M1.0,34.6v2.6M2.6,34.6v1.6M4.2,34.6v2.6M5.8,34.6v1.6M7.4,34.6v2.6M9.0,34.6v1.6M10.6,34.6v2.6M12.2,34.6v1.6M13.8,34.6v2.6M15.4,34.6v1.6M17.0,34.6v2.6M18.6,34.6v1.6M20.2,34.6v2.6M21.8,34.6v1.6M23.4,34.6v2.6M25.0,34.6v1.6M26.6,34.6v2.6M28.2,34.6v1.6M29.8,34.6v2.6M31.4,34.6v1.6M33.0,34.6v2.6M34.6,34.6v1.6M36.2,34.6v2.6M37.8,34.6v1.6M39.4,34.6v2.6M41.0,34.6v1.6M42.6,34.6v2.6M44.2,34.6v1.6M45.8,34.6v2.6M47.4,34.6v1.6M49.0,34.6v2.6M50.6,34.6v1.6" stroke="#555" stroke-width="0.35"/>
<rect x="4.0" y="38.4" width="1.2" height="1.6" fill="#333"/>
<rect x="12.0" y="38.4" width="1.2" height="1.6" fill="#333"/>
<rect x="20.0" y="38.4" width="1.2" height="1.6" fill="#333"/>
<rect x="28.0" y="38.4" width="1.2" height="1.6" fill="#333"/>
<rect x="36.0" y="38.4" width="1.2" height="1.6" fill="#333"/>
<rect x="44.0" y="38.4" width="1.2" height="1.6" fill="#333"/>
<path d="M4.0,20.0 L8.0,27.0 L11.0,26.0 L9.0,20.0Z" fill="#9d6857"/>
<path d="M0.5,4.8 L8.8,2.4 L20.6,1.8 L32.4,3.0 L44.2,4.2 L48.9,6.0 L49.5,15.4 L47.7,19.5 L38.3,20.7 L26.5,20.7 L14.7,21.9 L8.8,22.5 L4.1,20.7 L0.5,16.6Z" fill="#000" opacity="0.12" transform="translate(0.4,1.2)" filter="url(#tblur)"/>
<path d="M0.5,4.8 L8.8,2.4 L20.6,1.8 L32.4,3.0 L44.2,4.2 L48.9,6.0 L49.5,15.4 L47.7,19.5 L38.3,20.7 L26.5,20.7 L14.7,21.9 L8.8,22.5 L4.1,20.7 L0.5,16.6Z" fill="#a66e5c" stroke="#8d5d4e" stroke-width="0.5" stroke-linejoin="round"/>
<path d="M0.5,4.8 L8.8,2.4 L20.6,1.8 L32.4,3.0 L44.2,4.2 L48.9,6.0 L49.5,15.4 L47.7,19.5 L38.3,20.7 L26.5,20.7 L14.7,21.9 L8.8,22.5 L4.1,20.7 L0.5,16.6Z" fill="url(#mshade)"/>
<ellipse cx="23" cy="12" rx="8" ry="5" fill="#9a6655" filter="url(#tblur)"/>
<ellipse cx="49.5" cy="3" rx="1.8" ry="2.5" fill="#ecd2b4"/>
</g>
<g transform="translate(367.1,244.2)" clip-path="url(#mclip)">
<rect x="0" y="0" width="51" height="42.3" fill="url(#pbg)"/>
<rect x="0" y="34.7" width="51" height="7.6" fill="#e2e2e0"/>
<rect x="0" y="34.7" width="51" height="2.4" fill="#a6a6a4"/>
<path d="M1.0,37.1v2.6M2.6,37.1v1.6M4.2,37.1v2.6M5.8,37.1v1.6M7.4,37.1v2.6M9.0,37.1v1.6M10.6,37.1v2.6M12.2,37.1v1.6M13.8,37.1v2.6M15.4,37.1v1.6M17.0,37.1v2.6M18.6,37.1v1.6M20.2,37.1v2.6M21.8,37.1v1.6M23.4,37.1v2.6M25.0,37.1v1.6M26.6,37.1v2.6M28.2,37.1v1.6M29.8,37.1v2.6M31.4,37.1v1.6M33.0,37.1v2.6M34.6,37.1v1.6M36.2,37.1v2.6M37.8,37.1v1.6M39.4,37.1v2.6M41.0,37.1v1.6M42.6,37.1v2.6M44.2,37.1v1.6M45.8,37.1v2.6M47.4,37.1v1.6M49.0,37.1v2.6M50.6,37.1v1.6" stroke="#555" stroke-width="0.35"/>
<rect x="4.0" y="40.9" width="1.2" height="1.6" fill="#333"/>
<rect x="12.0" y="40.9" width="1.2" height="1.6" fill="#333"/>
<rect x="20.0" y="40.9" width="1.2" height="1.6" fill="#333"/>
<rect x="28.0" y="40.9" width="1.2" height="1.6" fill="#333"/>
<rect x="36.0" y="40.9" width="1.2" height="1.6" fill="#333"/>
<rect x="44.0" y="40.9" width="1.2" height="1.6" fill="#333"/>
<path d="M0.3,10.7 L6.2,6.0 L14.5,3.6 L18.0,1.2 L22.7,6.0 L32.2,7.1 L38.1,3.6 L44.0,0.6 L48.7,1.2 L49.3,13.0 L46.3,16.6 L44.0,22.5 L42.8,26.0 L40.4,23.6 L36.9,18.9 L26.3,20.7 L14.5,21.3 L3.9,22.5 L0.3,20.1 L2.1,17.2 L5.0,15.4 L1.5,14.2Z" fill="#000" opacity="0.12" transform="translate(0.4,1.2)" filter="url(#tblur)"/>
<path d="M0.3,10.7 L6.2,6.0 L14.5,3.6 L18.0,1.2 L22.7,6.0 L32.2,7.1 L38.1,3.6 L44.0,0.6 L48.7,1.2 L49.3,13.0 L46.3,16.6 L44.0,22.5 L42.8,26.0 L40.4,23.6 L36.9,18.9 L26.3,20.7 L14.5,21.3 L3.9,22.5 L0.3,20.1 L2.1,17.2 L5.0,15.4 L1.5,14.2Z" fill="#b8735a" stroke="#9c614c" stroke-width="0.5" stroke-linejoin="round"/>
<path d="M0.3,10.7 L6.2,6.0 L14.5,3.6 L18.0,1.2 L22.7,6.0 L32.2,7.1 L38.1,3.6 L44.0,0.6 L48.7,1.2 L49.3,13.0 L46.3,16.6 L44.0,22.5 L42.8,26.0 L40.4,23.6 L36.9,18.9 L26.3,20.7 L14.5,21.3 L3.9,22.5 L0.3,20.1 L2.1,17.2 L5.0,15.4 L1.5,14.2Z" fill="url(#mshade)"/>
<ellipse cx="46.5" cy="13" rx="2.5" ry="3" fill="#ecd2b4"/>
<ellipse cx="42" cy="1.5" rx="3" ry="1.6" fill="#ecd2b4"/>
</g>
<g transform="translate(423.6,244.2)" clip-path="url(#mclip)">
<rect x="0" y="0" width="51" height="42.3" fill="url(#pbg)"/>
<rect x="0" y="35.7" width="51" height="6.6" fill="#e2e2e0"/>
<rect x="0" y="35.7" width="51" height="2.4" fill="#a6a6a4"/>
<path d="M1.0,38.1v2.6M2.6,38.1v1.6M4.2,38.1v2.6M5.8,38.1v1.6M7.4,38.1v2.6M9.0,38.1v1.6M10.6,38.1v2.6M12.2,38.1v1.6M13.8,38.1v2.6M15.4,38.1v1.6M17.0,38.1v2.6M18.6,38.1v1.6M20.2,38.1v2.6M21.8,38.1v1.6M23.4,38.1v2.6M25.0,38.1v1.6M26.6,38.1v2.6M28.2,38.1v1.6M29.8,38.1v2.6M31.4,38.1v1.6M33.0,38.1v2.6M34.6,38.1v1.6M36.2,38.1v2.6M37.8,38.1v1.6M39.4,38.1v2.6M41.0,38.1v1.6M42.6,38.1v2.6M44.2,38.1v1.6M45.8,38.1v2.6M47.4,38.1v1.6M49.0,38.1v2.6M50.6,38.1v1.6" stroke="#555" stroke-width="0.35"/>
<rect x="4.0" y="41.9" width="1.2" height="1.6" fill="#333"/>
<rect x="12.0" y="41.9" width="1.2" height="1.6" fill="#333"/>
<rect x="20.0" y="41.9" width="1.2" height="1.6" fill="#333"/>
<rect x="28.0" y="41.9" width="1.2" height="1.6" fill="#333"/>
<rect x="36.0" y="41.9" width="1.2" height="1.6" fill="#333"/>
<rect x="44.0" y="41.9" width="1.2" height="1.6" fill="#333"/>
<path d="M-0.3,18.9 L5.6,17.7 L9.2,11.8 L19.8,8.3 L31.6,8.3 L36.3,6.0 L35.1,1.2 L38.7,0.0 L43.4,2.4 L49.3,3.6 L50.5,9.5 L46.9,15.4 L42.2,20.1 L39.8,26.0 L41.6,31.3 L36.3,27.2 L31.6,23.6 L24.5,26.0 L19.8,29.5 L15.1,31.9 L11.5,26.0 L6.8,21.3 L-0.3,20.1Z" fill="#000" opacity="0.12" transform="translate(0.4,1.2)" filter="url(#tblur)"/>
<path d="M-0.3,18.9 L5.6,17.7 L9.2,11.8 L19.8,8.3 L31.6,8.3 L36.3,6.0 L35.1,1.2 L38.7,0.0 L43.4,2.4 L49.3,3.6 L50.5,9.5 L46.9,15.4 L42.2,20.1 L39.8,26.0 L41.6,31.3 L36.3,27.2 L31.6,23.6 L24.5,26.0 L19.8,29.5 L15.1,31.9 L11.5,26.0 L6.8,21.3 L-0.3,20.1Z" fill="#a46c66" stroke="#8b5b56" stroke-width="0.5" stroke-linejoin="round"/>
<path d="M-0.3,18.9 L5.6,17.7 L9.2,11.8 L19.8,8.3 L31.6,8.3 L36.3,6.0 L35.1,1.2 L38.7,0.0 L43.4,2.4 L49.3,3.6 L50.5,9.5 L46.9,15.4 L42.2,20.1 L39.8,26.0 L41.6,31.3 L36.3,27.2 L31.6,23.6 L24.5,26.0 L19.8,29.5 L15.1,31.9 L11.5,26.0 L6.8,21.3 L-0.3,20.1Z" fill="url(#mshade)"/>
<ellipse cx="37.5" cy="2.5" rx="2.5" ry="3" fill="#ecd2b4"/>
<ellipse cx="46" cy="12" rx="2.2" ry="2.8" fill="#ecd2b4"/>
</g>
<g transform="translate(254.6,293.0)" clip-path="url(#mclip)">
<rect x="0" y="0" width="51" height="42.3" fill="url(#pbg)"/>
<rect x="0" y="34" width="51" height="8.3" fill="#e2e2e0"/>
<rect x="0" y="34" width="51" height="2.4" fill="#a6a6a4"/>
<path d="M1.0,36.4v2.6M2.6,36.4v1.6M4.2,36.4v2.6M5.8,36.4v1.6M7.4,36.4v2.6M9.0,36.4v1.6M10.6,36.4v2.6M12.2,36.4v1.6M13.8,36.4v2.6M15.4,36.4v1.6M17.0,36.4v2.6M18.6,36.4v1.6M20.2,36.4v2.6M21.8,36.4v1.6M23.4,36.4v2.6M25.0,36.4v1.6M26.6,36.4v2.6M28.2,36.4v1.6M29.8,36.4v2.6M31.4,36.4v1.6M33.0,36.4v2.6M34.6,36.4v1.6M36.2,36.4v2.6M37.8,36.4v1.6M39.4,36.4v2.6M41.0,36.4v1.6M42.6,36.4v2.6M44.2,36.4v1.6M45.8,36.4v2.6M47.4,36.4v1.6M49.0,36.4v2.6M50.6,36.4v1.6" stroke="#555" stroke-width="0.35"/>
<rect x="4.0" y="40.2" width="1.2" height="1.6" fill="#333"/>
<rect x="12.0" y="40.2" width="1.2" height="1.6" fill="#333"/>
<rect x="20.0" y="40.2" width="1.2" height="1.6" fill="#333"/>
<rect x="28.0" y="40.2" width="1.2" height="1.6" fill="#333"/>
<rect x="36.0" y="40.2" width="1.2" height="1.6" fill="#333"/>
<rect x="44.0" y="40.2" width="1.2" height="1.6" fill="#333"/>
<path d="M0.3,19.2 L6.4,17.9 L10.1,11.8 L16.3,8.7 L28.6,8.1 L34.7,8.7 L36.0,4.4 L37.2,0.7 L40.9,1.9 L40.9,6.8 L44.6,9.3 L48.3,13.0 L48.9,16.7 L44.6,17.9 L38.4,21.6 L36.0,27.8 L38.4,32.7 L33.5,29.0 L26.1,26.5 L20.0,27.8 L16.3,30.2 L12.6,27.8 L8.9,24.1 L5.2,21.0 L0.3,21.0Z" fill="#000" opacity="0.12" transform="translate(0.4,1.2)" filter="url(#tblur)"/>
<path d="M0.3,19.2 L6.4,17.9 L10.1,11.8 L16.3,8.7 L28.6,8.1 L34.7,8.7 L36.0,4.4 L37.2,0.7 L40.9,1.9 L40.9,6.8 L44.6,9.3 L48.3,13.0 L48.9,16.7 L44.6,17.9 L38.4,21.6 L36.0,27.8 L38.4,32.7 L33.5,29.0 L26.1,26.5 L20.0,27.8 L16.3,30.2 L12.6,27.8 L8.9,24.1 L5.2,21.0 L0.3,21.0Z" fill="#8e5e5c" stroke="#784f4e" stroke-width="0.5" stroke-linejoin="round"/>
<path d="M0.3,19.2 L6.4,17.9 L10.1,11.8 L16.3,8.7 L28.6,8.1 L34.7,8.7 L36.0,4.4 L37.2,0.7 L40.9,1.9 L40.9,6.8 L44.6,9.3 L48.3,13.0 L48.9,16.7 L44.6,17.9 L38.4,21.6 L36.0,27.8 L38.4,32.7 L33.5,29.0 L26.1,26.5 L20.0,27.8 L16.3,30.2 L12.6,27.8 L8.9,24.1 L5.2,21.0 L0.3,21.0Z" fill="url(#mshade)"/>
<ellipse cx="38.6" cy="15.4" rx="2.8" ry="3" fill="#ecd2b4"/>
<ellipse cx="38.8" cy="2.5" rx="2" ry="2.5" fill="#ecd2b4"/>
</g>
<g transform="translate(310.9,293.0)" clip-path="url(#mclip)">
<rect x="0" y="0" width="51" height="42.3" fill="url(#pbg)"/>
<rect x="0" y="34" width="51" height="8.3" fill="#e2e2e0"/>
<rect x="0" y="34" width="51" height="2.4" fill="#a6a6a4"/>
<path d="M1.0,36.4v2.6M2.6,36.4v1.6M4.2,36.4v2.6M5.8,36.4v1.6M7.4,36.4v2.6M9.0,36.4v1.6M10.6,36.4v2.6M12.2,36.4v1.6M13.8,36.4v2.6M15.4,36.4v1.6M17.0,36.4v2.6M18.6,36.4v1.6M20.2,36.4v2.6M21.8,36.4v1.6M23.4,36.4v2.6M25.0,36.4v1.6M26.6,36.4v2.6M28.2,36.4v1.6M29.8,36.4v2.6M31.4,36.4v1.6M33.0,36.4v2.6M34.6,36.4v1.6M36.2,36.4v2.6M37.8,36.4v1.6M39.4,36.4v2.6M41.0,36.4v1.6M42.6,36.4v2.6M44.2,36.4v1.6M45.8,36.4v2.6M47.4,36.4v1.6M49.0,36.4v2.6M50.6,36.4v1.6" stroke="#555" stroke-width="0.35"/>
<rect x="4.0" y="40.2" width="1.2" height="1.6" fill="#333"/>
<rect x="12.0" y="40.2" width="1.2" height="1.6" fill="#333"/>
<rect x="20.0" y="40.2" width="1.2" height="1.6" fill="#333"/>
<rect x="28.0" y="40.2" width="1.2" height="1.6" fill="#333"/>
<rect x="36.0" y="40.2" width="1.2" height="1.6" fill="#333"/>
<rect x="44.0" y="40.2" width="1.2" height="1.6" fill="#333"/>
<path d="M0.1,14.2 L8.1,10.5 L8.1,5.6 L9.3,3.2 L6.8,1.9 L10.5,0.7 L13.0,3.8 L21.6,3.2 L33.9,3.8 L40.1,3.2 L39.5,0.7 L42.5,0.7 L43.8,6.8 L48.7,10.5 L49.9,15.5 L43.8,17.3 L38.8,17.9 L37.6,21.6 L35.2,22.8 L32.7,20.4 L25.3,21.0 L21.6,25.3 L22.8,29.6 L17.9,27.8 L14.2,22.8 L10.5,19.2 L8.1,16.7 L0.1,16.7Z" fill="#000" opacity="0.12" transform="translate(0.4,1.2)" filter="url(#tblur)"/>
<path d="M0.1,14.2 L8.1,10.5 L8.1,5.6 L9.3,3.2 L6.8,1.9 L10.5,0.7 L13.0,3.8 L21.6,3.2 L33.9,3.8 L40.1,3.2 L39.5,0.7 L42.5,0.7 L43.8,6.8 L48.7,10.5 L49.9,15.5 L43.8,17.3 L38.8,17.9 L37.6,21.6 L35.2,22.8 L32.7,20.4 L25.3,21.0 L21.6,25.3 L22.8,29.6 L17.9,27.8 L14.2,22.8 L10.5,19.2 L8.1,16.7 L0.1,16.7Z" fill="#b27a62" stroke="#976753" stroke-width="0.5" stroke-linejoin="round"/>
<path d="M0.1,14.2 L8.1,10.5 L8.1,5.6 L9.3,3.2 L6.8,1.9 L10.5,0.7 L13.0,3.8 L21.6,3.2 L33.9,3.8 L40.1,3.2 L39.5,0.7 L42.5,0.7 L43.8,6.8 L48.7,10.5 L49.9,15.5 L43.8,17.3 L38.8,17.9 L37.6,21.6 L35.2,22.8 L32.7,20.4 L25.3,21.0 L21.6,25.3 L22.8,29.6 L17.9,27.8 L14.2,22.8 L10.5,19.2 L8.1,16.7 L0.1,16.7Z" fill="url(#mshade)"/>
<ellipse cx="37.4" cy="14.8" rx="3.2" ry="2.6" fill="#ecd2b4"/>
<ellipse cx="41" cy="1.5" rx="1.8" ry="2" fill="#ecd2b4"/>
</g>
<g transform="translate(367.1,293.0)" clip-path="url(#mclip)">
<rect x="0" y="0" width="51" height="42.3" fill="url(#pbg)"/>
<rect x="0" y="36" width="51" height="6.3" fill="#e2e2e0"/>
<rect x="0" y="36" width="51" height="2.4" fill="#a6a6a4"/>
<path d="M1.0,38.4v2.6M2.6,38.4v1.6M4.2,38.4v2.6M5.8,38.4v1.6M7.4,38.4v2.6M9.0,38.4v1.6M10.6,38.4v2.6M12.2,38.4v1.6M13.8,38.4v2.6M15.4,38.4v1.6M17.0,38.4v2.6M18.6,38.4v1.6M20.2,38.4v2.6M21.8,38.4v1.6M23.4,38.4v2.6M25.0,38.4v1.6M26.6,38.4v2.6M28.2,38.4v1.6M29.8,38.4v2.6M31.4,38.4v1.6M33.0,38.4v2.6M34.6,38.4v1.6M36.2,38.4v2.6M37.8,38.4v1.6M39.4,38.4v2.6M41.0,38.4v1.6M42.6,38.4v2.6M44.2,38.4v1.6M45.8,38.4v2.6M47.4,38.4v1.6M49.0,38.4v2.6M50.6,38.4v1.6" stroke="#555" stroke-width="0.35"/>
<rect x="4.0" y="42.2" width="1.2" height="1.6" fill="#333"/>
<rect x="12.0" y="42.2" width="1.2" height="1.6" fill="#333"/>
<rect x="20.0" y="42.2" width="1.2" height="1.6" fill="#333"/>
<rect x="28.0" y="42.2" width="1.2" height="1.6" fill="#333"/>
<rect x="36.0" y="42.2" width="1.2" height="1.6" fill="#333"/>
<rect x="44.0" y="42.2" width="1.2" height="1.6" fill="#333"/>
<path d="M0.5,9.3 L6.6,6.8 L10.3,1.9 L16.5,1.9 L27.6,2.5 L37.4,4.4 L42.3,3.2 L46.0,4.4 L49.7,10.5 L51.0,16.7 L49.1,22.8 L46.0,24.1 L39.9,22.8 L37.4,27.8 L36.2,31.5 L32.5,26.5 L26.3,22.8 L17.7,22.8 L14.0,27.8 L16.5,31.5 L11.6,32.7 L9.1,25.3 L9.1,19.2 L6.6,11.8 L0.5,11.8Z" fill="#000" opacity="0.12" transform="translate(0.4,1.2)" filter="url(#tblur)"/>
<path d="M0.5,9.3 L6.6,6.8 L10.3,1.9 L16.5,1.9 L27.6,2.5 L37.4,4.4 L42.3,3.2 L46.0,4.4 L49.7,10.5 L51.0,16.7 L49.1,22.8 L46.0,24.1 L39.9,22.8 L37.4,27.8 L36.2,31.5 L32.5,26.5 L26.3,22.8 L17.7,22.8 L14.0,27.8 L16.5,31.5 L11.6,32.7 L9.1,25.3 L9.1,19.2 L6.6,11.8 L0.5,11.8Z" fill="#b67a62" stroke="#9a6753" stroke-width="0.5" stroke-linejoin="round"/>
<path d="M0.5,9.3 L6.6,6.8 L10.3,1.9 L16.5,1.9 L27.6,2.5 L37.4,4.4 L42.3,3.2 L46.0,4.4 L49.7,10.5 L51.0,16.7 L49.1,22.8 L46.0,24.1 L39.9,22.8 L37.4,27.8 L36.2,31.5 L32.5,26.5 L26.3,22.8 L17.7,22.8 L14.0,27.8 L16.5,31.5 L11.6,32.7 L9.1,25.3 L9.1,19.2 L6.6,11.8 L0.5,11.8Z" fill="url(#mshade)"/>
<ellipse cx="40.5" cy="18.5" rx="3.2" ry="2.8" fill="#ecd2b4"/>
<ellipse cx="45" cy="4.5" rx="2.2" ry="2.6" fill="#ecd2b4"/>
<circle cx="10.6" cy="18.5" r="2.1" fill="#8a3a30"/><circle cx="10.6" cy="18.5" r="1.6" fill="#1a0808"/>
</g>
<g transform="translate(423.6,293.0)" clip-path="url(#mclip)">
<rect x="0" y="0" width="51" height="42.3" fill="url(#pbg)"/>
<rect x="0" y="35" width="51" height="7.3" fill="#e2e2e0"/>
<rect x="0" y="35" width="51" height="2.4" fill="#a6a6a4"/>
<path d="M1.0,37.4v2.6M2.6,37.4v1.6M4.2,37.4v2.6M5.8,37.4v1.6M7.4,37.4v2.6M9.0,37.4v1.6M10.6,37.4v2.6M12.2,37.4v1.6M13.8,37.4v2.6M15.4,37.4v1.6M17.0,37.4v2.6M18.6,37.4v1.6M20.2,37.4v2.6M21.8,37.4v1.6M23.4,37.4v2.6M25.0,37.4v1.6M26.6,37.4v2.6M28.2,37.4v1.6M29.8,37.4v2.6M31.4,37.4v1.6M33.0,37.4v2.6M34.6,37.4v1.6M36.2,37.4v2.6M37.8,37.4v1.6M39.4,37.4v2.6M41.0,37.4v1.6M42.6,37.4v2.6M44.2,37.4v1.6M45.8,37.4v2.6M47.4,37.4v1.6M49.0,37.4v2.6M50.6,37.4v1.6" stroke="#555" stroke-width="0.35"/>
<rect x="4.0" y="41.2" width="1.2" height="1.6" fill="#333"/>
<rect x="12.0" y="41.2" width="1.2" height="1.6" fill="#333"/>
<rect x="20.0" y="41.2" width="1.2" height="1.6" fill="#333"/>
<rect x="28.0" y="41.2" width="1.2" height="1.6" fill="#333"/>
<rect x="36.0" y="41.2" width="1.2" height="1.6" fill="#333"/>
<rect x="44.0" y="41.2" width="1.2" height="1.6" fill="#333"/>
<path d="M0.5,8.7 L8.5,5.6 L14.7,0.7 L27.0,0.1 L39.3,0.7 L45.4,-0.5 L49.1,0.7 L50.4,9.3 L50.4,15.5 L45.4,17.9 L41.7,21.6 L45.4,27.8 L43.0,29.0 L38.0,21.6 L27.0,19.2 L17.1,21.6 L12.2,24.1 L14.7,31.5 L11.0,32.7 L8.5,24.1 L8.5,15.5 L6.1,10.5 L0.5,10.5Z" fill="#000" opacity="0.12" transform="translate(0.4,1.2)" filter="url(#tblur)"/>
<path d="M0.5,8.7 L8.5,5.6 L14.7,0.7 L27.0,0.1 L39.3,0.7 L45.4,-0.5 L49.1,0.7 L50.4,9.3 L50.4,15.5 L45.4,17.9 L41.7,21.6 L45.4,27.8 L43.0,29.0 L38.0,21.6 L27.0,19.2 L17.1,21.6 L12.2,24.1 L14.7,31.5 L11.0,32.7 L8.5,24.1 L8.5,15.5 L6.1,10.5 L0.5,10.5Z" fill="#ae786e" stroke="#93665d" stroke-width="0.5" stroke-linejoin="round"/>
<path d="M0.5,8.7 L8.5,5.6 L14.7,0.7 L27.0,0.1 L39.3,0.7 L45.4,-0.5 L49.1,0.7 L50.4,9.3 L50.4,15.5 L45.4,17.9 L41.7,21.6 L45.4,27.8 L43.0,29.0 L38.0,21.6 L27.0,19.2 L17.1,21.6 L12.2,24.1 L14.7,31.5 L11.0,32.7 L8.5,24.1 L8.5,15.5 L6.1,10.5 L0.5,10.5Z" fill="url(#mshade)"/>
<ellipse cx="42.5" cy="11.4" rx="3.6" ry="2.6" fill="#ecd2b4"/>
<ellipse cx="48" cy="1.5" rx="2" ry="2" fill="#ecd2b4"/>
<circle cx="13.6" cy="17.8" r="2.5" fill="#8a3a30"/><circle cx="13.6" cy="17.8" r="1.9" fill="#1a0808"/>
</g>
<g transform="translate(254.6,340.3)" clip-path="url(#mclip)">
<rect x="0" y="0" width="51" height="42.3" fill="url(#pbg)"/>
<rect x="0" y="35.7" width="51" height="6.6" fill="#e2e2e0"/>
<rect x="0" y="35.7" width="51" height="2.4" fill="#a6a6a4"/>
<path d="M1.0,38.1v2.6M2.6,38.1v1.6M4.2,38.1v2.6M5.8,38.1v1.6M7.4,38.1v2.6M9.0,38.1v1.6M10.6,38.1v2.6M12.2,38.1v1.6M13.8,38.1v2.6M15.4,38.1v1.6M17.0,38.1v2.6M18.6,38.1v1.6M20.2,38.1v2.6M21.8,38.1v1.6M23.4,38.1v2.6M25.0,38.1v1.6M26.6,38.1v2.6M28.2,38.1v1.6M29.8,38.1v2.6M31.4,38.1v1.6M33.0,38.1v2.6M34.6,38.1v1.6M36.2,38.1v2.6M37.8,38.1v1.6M39.4,38.1v2.6M41.0,38.1v1.6M42.6,38.1v2.6M44.2,38.1v1.6M45.8,38.1v2.6M47.4,38.1v1.6M49.0,38.1v2.6M50.6,38.1v1.6" stroke="#555" stroke-width="0.35"/>
<rect x="4.0" y="41.9" width="1.2" height="1.6" fill="#333"/>
<rect x="12.0" y="41.9" width="1.2" height="1.6" fill="#333"/>
<rect x="20.0" y="41.9" width="1.2" height="1.6" fill="#333"/>
<rect x="28.0" y="41.9" width="1.2" height="1.6" fill="#333"/>
<rect x="36.0" y="41.9" width="1.2" height="1.6" fill="#333"/>
<rect x="44.0" y="41.9" width="1.2" height="1.6" fill="#333"/>
<path d="M0.3,19.9 L5.2,16.2 L10.1,10.0 L22.4,7.0 L34.7,6.3 L36.0,2.6 L39.6,1.4 L47.0,1.4 L49.5,7.5 L47.0,13.7 L44.6,19.9 L44.6,26.0 L48.3,30.3 L42.1,29.7 L38.4,24.8 L28.6,26.0 L16.3,27.2 L12.6,30.9 L13.8,34.0 L7.6,33.4 L5.2,29.7 L2.7,26.0 L0.3,22.3Z" fill="#000" opacity="0.12" transform="translate(0.4,1.2)" filter="url(#tblur)"/>
<path d="M0.3,19.9 L5.2,16.2 L10.1,10.0 L22.4,7.0 L34.7,6.3 L36.0,2.6 L39.6,1.4 L47.0,1.4 L49.5,7.5 L47.0,13.7 L44.6,19.9 L44.6,26.0 L48.3,30.3 L42.1,29.7 L38.4,24.8 L28.6,26.0 L16.3,27.2 L12.6,30.9 L13.8,34.0 L7.6,33.4 L5.2,29.7 L2.7,26.0 L0.3,22.3Z" fill="#c08c76" stroke="#a37764" stroke-width="0.5" stroke-linejoin="round"/>
<path d="M0.3,19.9 L5.2,16.2 L10.1,10.0 L22.4,7.0 L34.7,6.3 L36.0,2.6 L39.6,1.4 L47.0,1.4 L49.5,7.5 L47.0,13.7 L44.6,19.9 L44.6,26.0 L48.3,30.3 L42.1,29.7 L38.4,24.8 L28.6,26.0 L16.3,27.2 L12.6,30.9 L13.8,34.0 L7.6,33.4 L5.2,29.7 L2.7,26.0 L0.3,22.3Z" fill="url(#mshade)"/>
<ellipse cx="37.5" cy="2.5" rx="1.8" ry="1.8" fill="#ecd2b4"/>
<circle cx="7.2" cy="24" r="3.6" fill="#8a3a30"/><circle cx="7.2" cy="24" r="2.8" fill="#1a0808"/>
</g>
<g transform="translate(310.9,340.3)" clip-path="url(#mclip)">
<rect x="0" y="0" width="51" height="42.3" fill="url(#pbg)"/>
<rect x="0" y="35.7" width="51" height="6.6" fill="#e2e2e0"/>
<rect x="0" y="35.7" width="51" height="2.4" fill="#a6a6a4"/>
<path d="M1.0,38.1v2.6M2.6,38.1v1.6M4.2,38.1v2.6M5.8,38.1v1.6M7.4,38.1v2.6M9.0,38.1v1.6M10.6,38.1v2.6M12.2,38.1v1.6M13.8,38.1v2.6M15.4,38.1v1.6M17.0,38.1v2.6M18.6,38.1v1.6M20.2,38.1v2.6M21.8,38.1v1.6M23.4,38.1v2.6M25.0,38.1v1.6M26.6,38.1v2.6M28.2,38.1v1.6M29.8,38.1v2.6M31.4,38.1v1.6M33.0,38.1v2.6M34.6,38.1v1.6M36.2,38.1v2.6M37.8,38.1v1.6M39.4,38.1v2.6M41.0,38.1v1.6M42.6,38.1v2.6M44.2,38.1v1.6M45.8,38.1v2.6M47.4,38.1v1.6M49.0,38.1v2.6M50.6,38.1v1.6" stroke="#555" stroke-width="0.35"/>
<rect x="4.0" y="41.9" width="1.2" height="1.6" fill="#333"/>
<rect x="12.0" y="41.9" width="1.2" height="1.6" fill="#333"/>
<rect x="20.0" y="41.9" width="1.2" height="1.6" fill="#333"/>
<rect x="28.0" y="41.9" width="1.2" height="1.6" fill="#333"/>
<rect x="36.0" y="41.9" width="1.2" height="1.6" fill="#333"/>
<rect x="44.0" y="41.9" width="1.2" height="1.6" fill="#333"/>
<path d="M9.3,7.5 L15.5,2.6 L27.8,0.8 L40.1,0.8 L48.7,1.4 L47.5,5.1 L46.2,11.2 L48.7,13.7 L43.8,14.9 L37.6,17.4 L27.8,19.9 L19.2,23.5 L21.6,26.0 L24.1,30.9 L17.9,30.9 L14.2,23.5 L10.5,22.3 L9.3,18.6 L0.7,19.9 L0.7,17.4 L8.1,14.9 L9.3,7.5Z" fill="#000" opacity="0.12" transform="translate(0.4,1.2)" filter="url(#tblur)"/>
<path d="M9.3,7.5 L15.5,2.6 L27.8,0.8 L40.1,0.8 L48.7,1.4 L47.5,5.1 L46.2,11.2 L48.7,13.7 L43.8,14.9 L37.6,17.4 L27.8,19.9 L19.2,23.5 L21.6,26.0 L24.1,30.9 L17.9,30.9 L14.2,23.5 L10.5,22.3 L9.3,18.6 L0.7,19.9 L0.7,17.4 L8.1,14.9 L9.3,7.5Z" fill="#c69a86" stroke="#a88271" stroke-width="0.5" stroke-linejoin="round"/>
<path d="M9.3,7.5 L15.5,2.6 L27.8,0.8 L40.1,0.8 L48.7,1.4 L47.5,5.1 L46.2,11.2 L48.7,13.7 L43.8,14.9 L37.6,17.4 L27.8,19.9 L19.2,23.5 L21.6,26.0 L24.1,30.9 L17.9,30.9 L14.2,23.5 L10.5,22.3 L9.3,18.6 L0.7,19.9 L0.7,17.4 L8.1,14.9 L9.3,7.5Z" fill="url(#mshade)"/>
<circle cx="13.2" cy="20" r="3.1" fill="#8a3a30"/><circle cx="13.2" cy="20" r="2.4" fill="#1a0808"/>
</g>
<g transform="translate(367.1,340.3)" clip-path="url(#mclip)">
<rect x="0" y="0" width="51" height="42.3" fill="url(#pbg)"/>
<rect x="0" y="35.7" width="51" height="6.6" fill="#e2e2e0"/>
<rect x="0" y="35.7" width="51" height="2.4" fill="#a6a6a4"/>
<path d="M1.0,38.1v2.6M2.6,38.1v1.6M4.2,38.1v2.6M5.8,38.1v1.6M7.4,38.1v2.6M9.0,38.1v1.6M10.6,38.1v2.6M12.2,38.1v1.6M13.8,38.1v2.6M15.4,38.1v1.6M17.0,38.1v2.6M18.6,38.1v1.6M20.2,38.1v2.6M21.8,38.1v1.6M23.4,38.1v2.6M25.0,38.1v1.6M26.6,38.1v2.6M28.2,38.1v1.6M29.8,38.1v2.6M31.4,38.1v1.6M33.0,38.1v2.6M34.6,38.1v1.6M36.2,38.1v2.6M37.8,38.1v1.6M39.4,38.1v2.6M41.0,38.1v1.6M42.6,38.1v2.6M44.2,38.1v1.6M45.8,38.1v2.6M47.4,38.1v1.6M49.0,38.1v2.6M50.6,38.1v1.6" stroke="#555" stroke-width="0.35"/>
<rect x="4.0" y="41.9" width="1.2" height="1.6" fill="#333"/>
<rect x="12.0" y="41.9" width="1.2" height="1.6" fill="#333"/>
<rect x="20.0" y="41.9" width="1.2" height="1.6" fill="#333"/>
<rect x="28.0" y="41.9" width="1.2" height="1.6" fill="#333"/>
<rect x="36.0" y="41.9" width="1.2" height="1.6" fill="#333"/>
<rect x="44.0" y="41.9" width="1.2" height="1.6" fill="#333"/>
<path d="M1.7,13.7 L6.6,8.8 L6.6,6.3 L9.1,5.1 L12.8,7.5 L21.4,5.7 L33.7,6.3 L42.3,5.1 L42.3,1.4 L46.0,0.8 L47.3,5.1 L51.0,8.8 L51.0,16.2 L48.5,19.9 L46.0,19.9 L48.5,24.8 L49.7,27.2 L46.0,26.0 L41.1,22.3 L33.7,21.1 L21.4,22.3 L12.8,23.5 L9.1,27.2 L12.8,33.4 L9.1,34.6 L5.4,30.9 L6.6,24.8 L7.9,21.1 L1.7,16.2Z" fill="#000" opacity="0.12" transform="translate(0.4,1.2)" filter="url(#tblur)"/>
<path d="M1.7,13.7 L6.6,8.8 L6.6,6.3 L9.1,5.1 L12.8,7.5 L21.4,5.7 L33.7,6.3 L42.3,5.1 L42.3,1.4 L46.0,0.8 L47.3,5.1 L51.0,8.8 L51.0,16.2 L48.5,19.9 L46.0,19.9 L48.5,24.8 L49.7,27.2 L46.0,26.0 L41.1,22.3 L33.7,21.1 L21.4,22.3 L12.8,23.5 L9.1,27.2 L12.8,33.4 L9.1,34.6 L5.4,30.9 L6.6,24.8 L7.9,21.1 L1.7,16.2Z" fill="#b88476" stroke="#9c7064" stroke-width="0.5" stroke-linejoin="round"/>
<path d="M1.7,13.7 L6.6,8.8 L6.6,6.3 L9.1,5.1 L12.8,7.5 L21.4,5.7 L33.7,6.3 L42.3,5.1 L42.3,1.4 L46.0,0.8 L47.3,5.1 L51.0,8.8 L51.0,16.2 L48.5,19.9 L46.0,19.9 L48.5,24.8 L49.7,27.2 L46.0,26.0 L41.1,22.3 L33.7,21.1 L21.4,22.3 L12.8,23.5 L9.1,27.2 L12.8,33.4 L9.1,34.6 L5.4,30.9 L6.6,24.8 L7.9,21.1 L1.7,16.2Z" fill="url(#mshade)"/>
<ellipse cx="45.4" cy="13.1" rx="3" ry="3" fill="#ecd2b4"/>
<ellipse cx="44" cy="2" rx="2" ry="2" fill="#ecd2b4"/>
<circle cx="11.2" cy="19.3" r="3.1" fill="#8a3a30"/><circle cx="11.2" cy="19.3" r="2.4" fill="#1a0808"/>
</g>
<g transform="translate(423.6,340.3)" clip-path="url(#mclip)">
<rect x="0" y="0" width="51" height="42.3" fill="url(#pbg)"/>
<rect x="0" y="35.7" width="51" height="6.6" fill="#e2e2e0"/>
<rect x="0" y="35.7" width="51" height="2.4" fill="#a6a6a4"/>
<path d="M1.0,38.1v2.6M2.6,38.1v1.6M4.2,38.1v2.6M5.8,38.1v1.6M7.4,38.1v2.6M9.0,38.1v1.6M10.6,38.1v2.6M12.2,38.1v1.6M13.8,38.1v2.6M15.4,38.1v1.6M17.0,38.1v2.6M18.6,38.1v1.6M20.2,38.1v2.6M21.8,38.1v1.6M23.4,38.1v2.6M25.0,38.1v1.6M26.6,38.1v2.6M28.2,38.1v1.6M29.8,38.1v2.6M31.4,38.1v1.6M33.0,38.1v2.6M34.6,38.1v1.6M36.2,38.1v2.6M37.8,38.1v1.6M39.4,38.1v2.6M41.0,38.1v1.6M42.6,38.1v2.6M44.2,38.1v1.6M45.8,38.1v2.6M47.4,38.1v1.6M49.0,38.1v2.6M50.6,38.1v1.6" stroke="#555" stroke-width="0.35"/>
<rect x="4.0" y="41.9" width="1.2" height="1.6" fill="#333"/>
<rect x="12.0" y="41.9" width="1.2" height="1.6" fill="#333"/>
<rect x="20.0" y="41.9" width="1.2" height="1.6" fill="#333"/>
<rect x="28.0" y="41.9" width="1.2" height="1.6" fill="#333"/>
<rect x="36.0" y="41.9" width="1.2" height="1.6" fill="#333"/>
<rect x="44.0" y="41.9" width="1.2" height="1.6" fill="#333"/>
<path d="M1.1,5.1 L6.0,3.9 L20.8,5.1 L33.1,6.9 L43.0,9.4 L45.4,5.1 L49.1,5.1 L50.4,10.0 L50.4,22.3 L47.9,26.0 L43.0,24.8 L36.8,22.3 L27.0,21.1 L14.7,21.7 L6.0,22.3 L1.1,23.5 L1.1,19.9 L3.6,16.2 L1.1,12.5Z" fill="#000" opacity="0.12" transform="translate(0.4,1.2)" filter="url(#tblur)"/>
<path d="M1.1,5.1 L6.0,3.9 L20.8,5.1 L33.1,6.9 L43.0,9.4 L45.4,5.1 L49.1,5.1 L50.4,10.0 L50.4,22.3 L47.9,26.0 L43.0,24.8 L36.8,22.3 L27.0,21.1 L14.7,21.7 L6.0,22.3 L1.1,23.5 L1.1,19.9 L3.6,16.2 L1.1,12.5Z" fill="#b07868" stroke="#956658" stroke-width="0.5" stroke-linejoin="round"/>
<path d="M1.1,5.1 L6.0,3.9 L20.8,5.1 L33.1,6.9 L43.0,9.4 L45.4,5.1 L49.1,5.1 L50.4,10.0 L50.4,22.3 L47.9,26.0 L43.0,24.8 L36.8,22.3 L27.0,21.1 L14.7,21.7 L6.0,22.3 L1.1,23.5 L1.1,19.9 L3.6,16.2 L1.1,12.5Z" fill="url(#mshade)"/>
<ellipse cx="41.7" cy="14.9" rx="3.4" ry="2.4" fill="#ecd2b4"/>
<ellipse cx="47" cy="4.6" rx="1.8" ry="2" fill="#ecd2b4"/>
<circle cx="6.7" cy="16.2" r="2.5" fill="#8a3a30"/><circle cx="6.7" cy="16.2" r="1.9" fill="#1a0808"/>
</g>
<defs><filter id="hd" x="0" y="0" width="100%" height="100%" color-interpolation-filters="sRGB"><feTurbulence type="fractalNoise" baseFrequency="0.75" numOctaves="2" seed="5"/><feColorMatrix type="matrix" values="0 0 0 0 0.38  0 0 0 0 0.08  0 0 0 0 0.45  6 0 0 0 -2.9"/></filter><filter id="hl" x="0" y="0" width="100%" height="100%" color-interpolation-filters="sRGB"><feTurbulence type="fractalNoise" baseFrequency="0.6" numOctaves="2" seed="9"/><feColorMatrix type="matrix" values="0 0 0 0 1  0 0 0 0 0.93  0 0 0 0 1  6 0 0 0 -3.0"/></filter></defs>
<text x="477.3" y="240.9" font-size="9.2" text-anchor="start" font-weight="bold" fill="#111" >(f)</text>
<rect x="491.5" y="244.4" width="44.2" height="29.8" fill="#b04eb2"/>
<rect x="491.5" y="244.4" width="44.2" height="29.8" filter="url(#hd)" opacity="0.2"/>
<rect x="491.5" y="244.4" width="44.2" height="29.8" filter="url(#hl)" opacity="0.16"/>
<text x="513.6" y="250.8" font-size="5.6" text-anchor="middle" font-weight="normal" fill="#141428" >Blank</text>
<rect x="530" y="272.2" width="4" height="0.7" fill="#222"/>
<rect x="491.5" y="279.0" width="44.2" height="29.8" fill="#b45ab6"/>
<rect x="491.5" y="279.0" width="44.2" height="29.8" filter="url(#hd)" opacity="0.24"/>
<rect x="491.5" y="279.0" width="44.2" height="29.8" filter="url(#hl)" opacity="0.26"/>
<text x="513.6" y="285.4" font-size="5.6" text-anchor="middle" font-weight="normal" fill="#141428" >PDT</text>
<rect x="530" y="306.8" width="4" height="0.7" fill="#222"/>
<rect x="491.5" y="314.8" width="44.2" height="29.8" fill="#cc8cd0"/>
<rect x="491.5" y="314.8" width="44.2" height="29.8" filter="url(#hd)" opacity="0.22"/>
<rect x="491.5" y="314.8" width="44.2" height="29.8" filter="url(#hl)" opacity="0.55"/>
<text x="513.6" y="321.2" font-size="5.6" text-anchor="middle" font-weight="normal" fill="#141428" >PTT</text>
<rect x="530" y="342.6" width="4" height="0.7" fill="#222"/>
<rect x="491.5" y="350.8" width="44.2" height="29.8" fill="#d096d4"/>
<rect x="491.5" y="350.8" width="44.2" height="29.8" filter="url(#hd)" opacity="0.18"/>
<rect x="491.5" y="350.8" width="44.2" height="29.8" filter="url(#hl)" opacity="0.6"/>
<text x="513.6" y="357.2" font-size="5.6" text-anchor="middle" font-weight="normal" fill="#141428" >PDT+PTT</text>
<rect x="530" y="378.6" width="4" height="0.7" fill="#222"/>
<rect x="2.5" y="2.5" width="242.8" height="217.7" fill="none" stroke="#e61e2c" stroke-width="1.1"/>
<path d="M250.9,2.5 H546.5 V220.9 H250.9 Z" fill="none" stroke="#e61e2c" stroke-width="1.1"/>
<line x1="250.9" y1="2.5" x2="250.9" y2="220.9" stroke="#e83a50" stroke-width="1.7"/>
<rect x="2.5" y="225.5" width="544" height="161.5" fill="none" stroke="#e61e2c" stroke-width="1.1"/>
<text x="253.9" y="16.4" font-size="11.6" text-anchor="start" font-weight="bold" fill="#111" style="font-family:Liberation Serif,serif" stroke="#111" stroke-width="0.2">ii</text>
<text x="267.6" y="14.8" font-size="7.8" text-anchor="start" font-weight="bold" fill="#111" >(a)</text>
<rect x="285.6" y="17.4" width="93.8" height="69.0" fill="#fff" stroke="#333" stroke-width="0.5"/>
<line x1="284.1" y1="86.4" x2="285.6" y2="86.4" stroke="#333" stroke-width="0.5"/>
<text x="283.6" y="88.0" font-size="4.6" text-anchor="end" font-weight="normal" fill="#2a2a2a" >0</text>
<line x1="284.1" y1="73.8" x2="285.6" y2="73.8" stroke="#333" stroke-width="0.5"/>
<text x="283.6" y="75.4" font-size="4.6" text-anchor="end" font-weight="normal" fill="#2a2a2a" >20</text>
<line x1="284.1" y1="61.2" x2="285.6" y2="61.2" stroke="#333" stroke-width="0.5"/>
<text x="283.6" y="62.8" font-size="4.6" text-anchor="end" font-weight="normal" fill="#2a2a2a" >40</text>
<line x1="284.1" y1="48.5" x2="285.6" y2="48.5" stroke="#333" stroke-width="0.5"/>
<text x="283.6" y="50.1" font-size="4.6" text-anchor="end" font-weight="normal" fill="#2a2a2a" >60</text>
<line x1="284.1" y1="35.9" x2="285.6" y2="35.9" stroke="#333" stroke-width="0.5"/>
<text x="283.6" y="37.5" font-size="4.6" text-anchor="end" font-weight="normal" fill="#2a2a2a" >80</text>
<line x1="284.1" y1="23.3" x2="285.6" y2="23.3" stroke="#333" stroke-width="0.5"/>
<text x="283.6" y="24.9" font-size="4.6" text-anchor="end" font-weight="normal" fill="#2a2a2a" >100</text>
<rect x="290.2" y="23.3" width="3.3" height="63.1" fill="#000"/>
<path d="M291.8 23.3V22.0M291.0 22.0h1.6" stroke="#222" stroke-width="0.45" fill="none"/>
<rect x="293.5" y="23.3" width="3.3" height="63.1" fill="#1f4fb4"/>
<path d="M295.1 23.3V22.0M294.3 22.0h1.6" stroke="#222" stroke-width="0.45" fill="none"/>
<rect x="296.8" y="23.3" width="3.3" height="63.1" fill="#f01010"/>
<path d="M298.4 23.3V22.0M297.6 22.0h1.6" stroke="#222" stroke-width="0.45" fill="none"/>
<rect x="309.1" y="30.9" width="3.3" height="55.5" fill="#000"/>
<path d="M310.7 30.9V29.0M309.9 29.0h1.6" stroke="#222" stroke-width="0.45" fill="none"/>
<rect x="312.4" y="49.2" width="3.3" height="37.2" fill="#1f4fb4"/>
<rect x="315.7" y="58.6" width="3.3" height="27.8" fill="#f01010"/>
<path d="M317.3 58.6V56.7M316.5 56.7h1.6" stroke="#222" stroke-width="0.45" fill="none"/>
<rect x="328.0" y="33.4" width="3.3" height="53.0" fill="#000"/>
<path d="M329.6 33.4V31.5M328.8 31.5h1.6" stroke="#222" stroke-width="0.45" fill="none"/>
<rect x="331.3" y="50.4" width="3.3" height="36.0" fill="#1f4fb4"/>
<rect x="334.6" y="80.1" width="3.3" height="6.3" fill="#f01010"/>
<rect x="346.9" y="35.3" width="3.3" height="51.1" fill="#000"/>
<path d="M348.5 35.3V33.4M347.7 33.4h1.6" stroke="#222" stroke-width="0.45" fill="none"/>
<rect x="350.2" y="51.7" width="3.3" height="34.7" fill="#1f4fb4"/>
<rect x="353.5" y="81.4" width="3.3" height="5.0" fill="#f01010"/>
<rect x="365.8" y="38.4" width="3.3" height="48.0" fill="#000"/>
<path d="M367.4 38.4V36.6M366.6 36.6h1.6" stroke="#222" stroke-width="0.45" fill="none"/>
<rect x="369.1" y="53.0" width="3.3" height="33.4" fill="#1f4fb4"/>
<rect x="372.4" y="82.6" width="3.3" height="3.8" fill="#f01010"/>
<rect x="354.2" y="18.1" width="5.1" height="3.0" fill="#000"/>
<text x="359.9" y="21.0" font-size="4.0" text-anchor="start" font-weight="normal" fill="#222" >Free Ce6</text>
<rect x="354.2" y="22.5" width="5.1" height="3.0" fill="#1f4fb4"/>
<text x="359.9" y="25.4" font-size="4.0" text-anchor="start" font-weight="normal" fill="#222" >RCDs</text>
<rect x="354.2" y="26.8" width="5.1" height="3.0" fill="#f01010"/>
<text x="359.9" y="29.7" font-size="4.0" text-anchor="start" font-weight="normal" fill="#222" >Ce6-RCDs</text>
<text x="331.8" y="15.7" font-size="5.1" text-anchor="middle" font-weight="bold" fill="#1a1a1a" >Hela</text>
<text x="0" y="0" font-size="4.6" text-anchor="middle" fill="#2a2a2a" transform="translate(274.3,53.4) rotate(-90)">Cell Viability (%)</text>
<text x="267.9" y="92.9" font-size="4.6" text-anchor="start" font-weight="normal" fill="#222" >Free Ce6</text>
<text x="295.2" y="92.9" font-size="4.6" text-anchor="middle" font-weight="normal" fill="#222" >0</text>
<text x="314.1" y="92.9" font-size="4.6" text-anchor="middle" font-weight="normal" fill="#222" >0.47</text>
<text x="333.0" y="92.9" font-size="4.6" text-anchor="middle" font-weight="normal" fill="#222" >0.93</text>
<text x="351.9" y="92.9" font-size="4.6" text-anchor="middle" font-weight="normal" fill="#222" >1.4</text>
<text x="370.8" y="92.9" font-size="4.6" text-anchor="middle" font-weight="normal" fill="#222" >1.9</text>
<text x="378.8" y="92.9" font-size="4.6" text-anchor="start" font-weight="normal" fill="#222" >μM</text>
<text x="267.9" y="97.8" font-size="4.6" text-anchor="start" font-weight="normal" fill="#222" >RCDs</text>
<text x="295.2" y="97.8" font-size="4.6" text-anchor="middle" font-weight="normal" fill="#222" >0</text>
<text x="314.1" y="97.8" font-size="4.6" text-anchor="middle" font-weight="normal" fill="#222" >50</text>
<text x="333.0" y="97.8" font-size="4.6" text-anchor="middle" font-weight="normal" fill="#222" >100</text>
<text x="351.9" y="97.8" font-size="4.6" text-anchor="middle" font-weight="normal" fill="#222" >150</text>
<text x="370.8" y="97.8" font-size="4.6" text-anchor="middle" font-weight="normal" fill="#222" >200</text>
<text x="378.8" y="97.8" font-size="4.6" text-anchor="start" font-weight="normal" fill="#222" >μg/ml</text>
<text x="267.9" y="102.7" font-size="4.6" text-anchor="start" font-weight="normal" fill="#222" >Ce6-RCDs</text>
<text x="295.2" y="102.7" font-size="4.6" text-anchor="middle" font-weight="normal" fill="#222" >0</text>
<text x="314.1" y="102.7" font-size="4.6" text-anchor="middle" font-weight="normal" fill="#222" >50</text>
<text x="333.0" y="102.7" font-size="4.6" text-anchor="middle" font-weight="normal" fill="#222" >100</text>
<text x="351.9" y="102.7" font-size="4.6" text-anchor="middle" font-weight="normal" fill="#222" >150</text>
<text x="370.8" y="102.7" font-size="4.6" text-anchor="middle" font-weight="normal" fill="#222" >200</text>
<text x="378.8" y="102.7" font-size="4.6" text-anchor="start" font-weight="normal" fill="#222" >μg/ml</text>
<text x="410.7" y="14.3" font-size="7.8" text-anchor="start" font-weight="bold" fill="#111" >(b)</text>
<rect x="430.5" y="16.7" width="95.7" height="69.7" fill="#fff" stroke="#333" stroke-width="0.5"/>
<line x1="429.0" y1="86.4" x2="430.5" y2="86.4" stroke="#333" stroke-width="0.5"/>
<text x="428.5" y="88.0" font-size="4.6" text-anchor="end" font-weight="normal" fill="#2a2a2a" >0</text>
<line x1="429.0" y1="75.5" x2="430.5" y2="75.5" stroke="#333" stroke-width="0.5"/>
<text x="428.5" y="77.1" font-size="4.6" text-anchor="end" font-weight="normal" fill="#2a2a2a" >20</text>
<line x1="429.0" y1="64.5" x2="430.5" y2="64.5" stroke="#333" stroke-width="0.5"/>
<text x="428.5" y="66.1" font-size="4.6" text-anchor="end" font-weight="normal" fill="#2a2a2a" >40</text>
<line x1="429.0" y1="53.6" x2="430.5" y2="53.6" stroke="#333" stroke-width="0.5"/>
<text x="428.5" y="55.2" font-size="4.6" text-anchor="end" font-weight="normal" fill="#2a2a2a" >60</text>
<line x1="429.0" y1="42.6" x2="430.5" y2="42.6" stroke="#333" stroke-width="0.5"/>
<text x="428.5" y="44.2" font-size="4.6" text-anchor="end" font-weight="normal" fill="#2a2a2a" >80</text>
<line x1="429.0" y1="31.7" x2="430.5" y2="31.7" stroke="#333" stroke-width="0.5"/>
<text x="428.5" y="33.3" font-size="4.6" text-anchor="end" font-weight="normal" fill="#2a2a2a" >100</text>
<line x1="429.0" y1="20.8" x2="430.5" y2="20.8" stroke="#333" stroke-width="0.5"/>
<text x="428.5" y="22.4" font-size="4.6" text-anchor="end" font-weight="normal" fill="#2a2a2a" >120</text>
<rect x="435.6" y="31.7" width="3.3" height="54.7" fill="#000"/>
<path d="M437.2 31.7V30.1M436.4 30.1h1.6" stroke="#222" stroke-width="0.45" fill="none"/>
<rect x="438.9" y="31.7" width="3.3" height="54.7" fill="#1f4fb4"/>
<path d="M440.6 31.7V30.1M439.8 30.1h1.6" stroke="#222" stroke-width="0.45" fill="none"/>
<rect x="442.2" y="31.7" width="3.3" height="54.7" fill="#f01010"/>
<path d="M443.9 31.7V30.1M443.1 30.1h1.6" stroke="#222" stroke-width="0.45" fill="none"/>
<rect x="454.5" y="33.3" width="3.3" height="53.1" fill="#000"/>
<path d="M456.1 33.3V32.2M455.3 32.2h1.6" stroke="#222" stroke-width="0.45" fill="none"/>
<rect x="457.8" y="37.7" width="3.3" height="48.7" fill="#1f4fb4"/>
<rect x="461.1" y="43.7" width="3.3" height="42.7" fill="#f01010"/>
<path d="M462.8 43.7V41.5M461.9 41.5h1.6" stroke="#222" stroke-width="0.45" fill="none"/>
<rect x="473.4" y="34.4" width="3.3" height="52.0" fill="#000"/>
<path d="M475.1 34.4V33.3M474.2 33.3h1.6" stroke="#222" stroke-width="0.45" fill="none"/>
<rect x="476.7" y="45.4" width="3.3" height="41.0" fill="#1f4fb4"/>
<path d="M478.4 45.4V43.7M477.6 43.7h1.6" stroke="#222" stroke-width="0.45" fill="none"/>
<rect x="480.0" y="65.1" width="3.3" height="21.3" fill="#f01010"/>
<path d="M481.7 65.1V63.4M480.9 63.4h1.6" stroke="#222" stroke-width="0.45" fill="none"/>
<rect x="492.3" y="36.1" width="3.3" height="50.3" fill="#000"/>
<path d="M493.9 36.1V35.0M493.1 35.0h1.6" stroke="#222" stroke-width="0.45" fill="none"/>
<rect x="495.6" y="48.1" width="3.3" height="38.3" fill="#1f4fb4"/>
<path d="M497.2 48.1V46.5M496.4 46.5h1.6" stroke="#222" stroke-width="0.45" fill="none"/>
<rect x="498.9" y="71.6" width="3.3" height="14.8" fill="#f01010"/>
<path d="M500.6 71.6V69.4M499.8 69.4h1.6" stroke="#222" stroke-width="0.45" fill="none"/>
<rect x="511.2" y="37.2" width="3.3" height="49.2" fill="#000"/>
<path d="M512.9 37.2V36.1M512.1 36.1h1.6" stroke="#222" stroke-width="0.45" fill="none"/>
<rect x="514.5" y="49.8" width="3.3" height="36.6" fill="#1f4fb4"/>
<rect x="517.8" y="79.8" width="3.3" height="6.6" fill="#f01010"/>
<rect x="498.2" y="19.3" width="5.1" height="3.0" fill="#000"/>
<text x="503.9" y="22.2" font-size="4.0" text-anchor="start" font-weight="normal" fill="#222" >Free Ce6</text>
<rect x="498.2" y="23.6" width="5.1" height="3.0" fill="#1f4fb4"/>
<text x="503.9" y="26.5" font-size="4.0" text-anchor="start" font-weight="normal" fill="#222" >RCDs</text>
<rect x="498.2" y="28.0" width="5.1" height="3.0" fill="#f01010"/>
<text x="503.9" y="30.9" font-size="4.0" text-anchor="start" font-weight="normal" fill="#222" >Ce6-RCDs</text>
<text x="479.1" y="15.2" font-size="5.1" text-anchor="middle" font-weight="bold" fill="#1a1a1a" font-style="italic" >MCF 7</text>
<text x="0" y="0" font-size="4.6" text-anchor="middle" fill="#2a2a2a" transform="translate(417.8,56.9) rotate(-90)">Cell Viability (%)</text>
<text x="413.1" y="92.2" font-size="4.6" text-anchor="start" font-weight="normal" fill="#222" >Free Ce6</text>
<text x="440.6" y="92.2" font-size="4.6" text-anchor="middle" font-weight="normal" fill="#222" >0</text>
<text x="459.5" y="92.2" font-size="4.6" text-anchor="middle" font-weight="normal" fill="#222" >0.47</text>
<text x="478.4" y="92.2" font-size="4.6" text-anchor="middle" font-weight="normal" fill="#222" >0.93</text>
<text x="497.3" y="92.2" font-size="4.6" text-anchor="middle" font-weight="normal" fill="#222" >1.4</text>
<text x="516.2" y="92.2" font-size="4.6" text-anchor="middle" font-weight="normal" fill="#222" >1.9</text>
<text x="524.2" y="92.2" font-size="4.6" text-anchor="start" font-weight="normal" fill="#222" >μM</text>
<text x="413.1" y="97.1" font-size="4.6" text-anchor="start" font-weight="normal" fill="#222" >RCDs</text>
<text x="440.6" y="97.1" font-size="4.6" text-anchor="middle" font-weight="normal" fill="#222" >0</text>
<text x="459.5" y="97.1" font-size="4.6" text-anchor="middle" font-weight="normal" fill="#222" >50</text>
<text x="478.4" y="97.1" font-size="4.6" text-anchor="middle" font-weight="normal" fill="#222" >100</text>
<text x="497.3" y="97.1" font-size="4.6" text-anchor="middle" font-weight="normal" fill="#222" >150</text>
<text x="516.2" y="97.1" font-size="4.6" text-anchor="middle" font-weight="normal" fill="#222" >200</text>
<text x="524.2" y="97.1" font-size="4.6" text-anchor="start" font-weight="normal" fill="#222" >μg/ml</text>
<text x="413.1" y="102.0" font-size="4.6" text-anchor="start" font-weight="normal" fill="#222" >Ce6-RCDs</text>
<text x="440.6" y="102.0" font-size="4.6" text-anchor="middle" font-weight="normal" fill="#222" >0</text>
<text x="459.5" y="102.0" font-size="4.6" text-anchor="middle" font-weight="normal" fill="#222" >50</text>
<text x="478.4" y="102.0" font-size="4.6" text-anchor="middle" font-weight="normal" fill="#222" >100</text>
<text x="497.3" y="102.0" font-size="4.6" text-anchor="middle" font-weight="normal" fill="#222" >150</text>
<text x="516.2" y="102.0" font-size="4.6" text-anchor="middle" font-weight="normal" fill="#222" >200</text>
<text x="524.2" y="102.0" font-size="4.6" text-anchor="start" font-weight="normal" fill="#222" >μg/ml</text>
<text x="270.2" y="119.9" font-size="7.8" text-anchor="start" font-weight="bold" fill="#111" >(c)</text>
<rect x="286.9" y="123.3" width="95.4" height="69.7" fill="#fff" stroke="#333" stroke-width="0.5"/>
<line x1="285.4" y1="193.0" x2="286.9" y2="193.0" stroke="#333" stroke-width="0.5"/>
<text x="284.9" y="194.6" font-size="4.6" text-anchor="end" font-weight="normal" fill="#2a2a2a" >0</text>
<line x1="285.4" y1="180.3" x2="286.9" y2="180.3" stroke="#333" stroke-width="0.5"/>
<text x="284.9" y="181.9" font-size="4.6" text-anchor="end" font-weight="normal" fill="#2a2a2a" >20</text>
<line x1="285.4" y1="167.6" x2="286.9" y2="167.6" stroke="#333" stroke-width="0.5"/>
<text x="284.9" y="169.2" font-size="4.6" text-anchor="end" font-weight="normal" fill="#2a2a2a" >40</text>
<line x1="285.4" y1="155.0" x2="286.9" y2="155.0" stroke="#333" stroke-width="0.5"/>
<text x="284.9" y="156.6" font-size="4.6" text-anchor="end" font-weight="normal" fill="#2a2a2a" >60</text>
<line x1="285.4" y1="142.3" x2="286.9" y2="142.3" stroke="#333" stroke-width="0.5"/>
<text x="284.9" y="143.9" font-size="4.6" text-anchor="end" font-weight="normal" fill="#2a2a2a" >80</text>
<line x1="285.4" y1="129.6" x2="286.9" y2="129.6" stroke="#333" stroke-width="0.5"/>
<text x="284.9" y="131.2" font-size="4.6" text-anchor="end" font-weight="normal" fill="#2a2a2a" >100</text>
<rect x="291.9" y="129.6" width="3.3" height="63.4" fill="#000"/>
<path d="M293.5 129.6V129.0M292.7 129.0h1.6" stroke="#222" stroke-width="0.45" fill="none"/>
<rect x="295.2" y="129.6" width="3.3" height="63.4" fill="#1f4fb4"/>
<path d="M296.8 129.6V129.0M296.0 129.0h1.6" stroke="#222" stroke-width="0.45" fill="none"/>
<rect x="298.5" y="129.6" width="3.3" height="63.4" fill="#f01010"/>
<path d="M300.1 129.6V129.0M299.3 129.0h1.6" stroke="#222" stroke-width="0.45" fill="none"/>
<rect x="310.8" y="141.0" width="3.3" height="52.0" fill="#000"/>
<path d="M312.4 141.0V139.1M311.6 139.1h1.6" stroke="#222" stroke-width="0.45" fill="none"/>
<rect x="314.1" y="139.7" width="3.3" height="53.3" fill="#1f4fb4"/>
<path d="M315.7 139.7V138.5M314.9 138.5h1.6" stroke="#222" stroke-width="0.45" fill="none"/>
<rect x="317.4" y="144.8" width="3.3" height="48.2" fill="#f01010"/>
<path d="M319.0 144.8V143.5M318.2 143.5h1.6" stroke="#222" stroke-width="0.45" fill="none"/>
<rect x="329.7" y="141.0" width="3.3" height="52.0" fill="#000"/>
<path d="M331.3 141.0V139.7M330.5 139.7h1.6" stroke="#222" stroke-width="0.45" fill="none"/>
<rect x="333.0" y="142.9" width="3.3" height="50.1" fill="#1f4fb4"/>
<rect x="336.3" y="166.4" width="3.3" height="26.6" fill="#f01010"/>
<path d="M337.9 166.4V164.5M337.1 164.5h1.6" stroke="#222" stroke-width="0.45" fill="none"/>
<rect x="348.6" y="143.5" width="3.3" height="49.5" fill="#000"/>
<rect x="351.9" y="144.8" width="3.3" height="48.2" fill="#1f4fb4"/>
<path d="M353.5 144.8V143.5M352.7 143.5h1.6" stroke="#222" stroke-width="0.45" fill="none"/>
<rect x="355.2" y="184.1" width="3.3" height="8.9" fill="#f01010"/>
<rect x="367.5" y="144.8" width="3.3" height="48.2" fill="#000"/>
<path d="M369.1 144.8V143.5M368.3 143.5h1.6" stroke="#222" stroke-width="0.45" fill="none"/>
<rect x="370.8" y="147.4" width="3.3" height="45.6" fill="#1f4fb4"/>
<path d="M372.4 147.4V146.1M371.6 146.1h1.6" stroke="#222" stroke-width="0.45" fill="none"/>
<rect x="374.1" y="186.7" width="3.3" height="6.3" fill="#f01010"/>
<rect x="355.7" y="124.4" width="5.1" height="3.0" fill="#000"/>
<text x="361.4" y="127.3" font-size="4.0" text-anchor="start" font-weight="normal" fill="#222" >Free Ce6</text>
<rect x="355.7" y="128.8" width="5.1" height="3.0" fill="#1f4fb4"/>
<text x="361.4" y="131.7" font-size="4.0" text-anchor="start" font-weight="normal" fill="#222" >RCDs</text>
<rect x="355.7" y="133.1" width="5.1" height="3.0" fill="#f01010"/>
<text x="361.4" y="136.0" font-size="4.0" text-anchor="start" font-weight="normal" fill="#222" >Ce6-RCDs</text>
<text x="334.0" y="122.0" font-size="5.1" text-anchor="middle" font-weight="bold" fill="#1a1a1a" >4T1</text>
<text x="0" y="0" font-size="4.6" text-anchor="middle" fill="#2a2a2a" transform="translate(275.0,163.0) rotate(-90)">Cell Viability (%)</text>
<text x="268.9" y="198.5" font-size="4.6" text-anchor="start" font-weight="normal" fill="#222" >Free Ce6</text>
<text x="296.9" y="198.5" font-size="4.6" text-anchor="middle" font-weight="normal" fill="#222" >0</text>
<text x="315.8" y="198.5" font-size="4.6" text-anchor="middle" font-weight="normal" fill="#222" >0.47</text>
<text x="334.7" y="198.5" font-size="4.6" text-anchor="middle" font-weight="normal" fill="#222" >0.93</text>
<text x="353.6" y="198.5" font-size="4.6" text-anchor="middle" font-weight="normal" fill="#222" >1.4</text>
<text x="372.5" y="198.5" font-size="4.6" text-anchor="middle" font-weight="normal" fill="#222" >1.9</text>
<text x="380.5" y="198.5" font-size="4.6" text-anchor="start" font-weight="normal" fill="#222" >μM</text>
<text x="268.9" y="203.5" font-size="4.6" text-anchor="start" font-weight="normal" fill="#222" >RCDs</text>
<text x="296.9" y="203.5" font-size="4.6" text-anchor="middle" font-weight="normal" fill="#222" >0</text>
<text x="315.8" y="203.5" font-size="4.6" text-anchor="middle" font-weight="normal" fill="#222" >50</text>
<text x="334.7" y="203.5" font-size="4.6" text-anchor="middle" font-weight="normal" fill="#222" >100</text>
<text x="353.6" y="203.5" font-size="4.6" text-anchor="middle" font-weight="normal" fill="#222" >150</text>
<text x="372.5" y="203.5" font-size="4.6" text-anchor="middle" font-weight="normal" fill="#222" >200</text>
<text x="380.5" y="203.5" font-size="4.6" text-anchor="start" font-weight="normal" fill="#222" >μg/ml</text>
<text x="268.9" y="208.5" font-size="4.6" text-anchor="start" font-weight="normal" fill="#222" >Ce6-RCDs</text>
<text x="296.9" y="208.5" font-size="4.6" text-anchor="middle" font-weight="normal" fill="#222" >0</text>
<text x="315.8" y="208.5" font-size="4.6" text-anchor="middle" font-weight="normal" fill="#222" >50</text>
<text x="334.7" y="208.5" font-size="4.6" text-anchor="middle" font-weight="normal" fill="#222" >100</text>
<text x="353.6" y="208.5" font-size="4.6" text-anchor="middle" font-weight="normal" fill="#222" >150</text>
<text x="372.5" y="208.5" font-size="4.6" text-anchor="middle" font-weight="normal" fill="#222" >200</text>
<text x="380.5" y="208.5" font-size="4.6" text-anchor="start" font-weight="normal" fill="#222" >μg/ml</text>
<text x="411.2" y="124.9" font-size="7.8" text-anchor="start" font-weight="bold" fill="#111" >(d)</text>
<defs><filter id="mott1" x="0" y="0" width="100%" height="100%" color-interpolation-filters="sRGB"><feTurbulence type="fractalNoise" baseFrequency="0.6" numOctaves="2" seed="11"/><feColorMatrix type="matrix" values="0 0 0 0 0  0 0 0 0 0  0 0 0 0 0  -9 0 0 0 4.5"/></filter><filter id="mott2" x="0" y="0" width="100%" height="100%" color-interpolation-filters="sRGB"><feTurbulence type="fractalNoise" baseFrequency="0.6" numOctaves="2" seed="23"/><feColorMatrix type="matrix" values="0 0 0 0 0  0 0 0 0 0  0 0 0 0 0  -9 0 0 0 4.8"/></filter><filter id="mott3" x="0" y="0" width="100%" height="100%" color-interpolation-filters="sRGB"><feTurbulence type="fractalNoise" baseFrequency="0.6" numOctaves="2" seed="37"/><feColorMatrix type="matrix" values="0 0 0 0 0  0 0 0 0 0  0 0 0 0 0  -9 0 0 0 4.55"/></filter></defs>
<rect x="432.9" y="120.6" width="87.8" height="88" fill="#fff" stroke="#2a2a2a" stroke-width="1.35" stroke-dasharray="1.3 0.9"/>
<rect x="435.6" y="123.0" width="40" height="39.5" fill="#26c826"/>
<rect x="435.6" y="123.0" width="40" height="39.5" fill="#000" filter="url(#mott1)"/>
<circle cx="448.6" cy="129.0" r="0.6" fill="#e03030"/>
<circle cx="461.6" cy="125.9" r="0.6" fill="#e03030"/>
<circle cx="457.0" cy="137.4" r="0.6" fill="#e03030"/>
<text x="455.6" y="160.5" font-size="4.4" text-anchor="middle" font-weight="bold" fill="#f0f0f0" >Blank</text>
<rect x="478.0" y="123.0" width="40" height="39.5" fill="#1cb41c"/>
<rect x="478.0" y="123.0" width="40" height="39.5" fill="#000" filter="url(#mott2)"/>
<circle cx="480.3" cy="143.0" r="0.6" fill="#e03030"/>
<circle cx="479.5" cy="140.1" r="0.6" fill="#e03030"/>
<circle cx="480.8" cy="126.6" r="0.6" fill="#e03030"/>
<circle cx="495.0" cy="155.7" r="0.6" fill="#e03030"/>
<circle cx="483.0" cy="131.8" r="0.6" fill="#e03030"/>
<circle cx="503.1" cy="160.4" r="0.6" fill="#e03030"/>
<text x="498.0" y="160.5" font-size="4.4" text-anchor="middle" font-weight="bold" fill="#f0f0f0" >PDT</text>
<rect x="435.6" y="164.8" width="40" height="39.5" fill="#22c022"/>
<rect x="435.6" y="164.8" width="40" height="39.5" fill="#000" filter="url(#mott3)"/>
<circle cx="458.7" cy="180.5" r="0.6" fill="#e03030"/>
<circle cx="474.7" cy="166.6" r="0.6" fill="#e03030"/>
<circle cx="469.9" cy="176.2" r="0.6" fill="#e03030"/>
<circle cx="441.4" cy="169.5" r="0.6" fill="#e03030"/>
<circle cx="447.9" cy="197.0" r="0.6" fill="#e03030"/>
<circle cx="442.8" cy="187.8" r="0.6" fill="#e03030"/>
<circle cx="461.2" cy="179.5" r="0.6" fill="#e03030"/>
<circle cx="457.5" cy="167.3" r="0.6" fill="#e03030"/>
<circle cx="438.0" cy="172.9" r="0.6" fill="#e03030"/>
<circle cx="462.8" cy="181.7" r="0.6" fill="#e03030"/>
<circle cx="448.2" cy="187.9" r="0.6" fill="#e03030"/>
<circle cx="453.7" cy="176.6" r="0.6" fill="#e03030"/>
<circle cx="467.4" cy="192.4" r="0.6" fill="#e03030"/>
<circle cx="445.4" cy="187.5" r="0.6" fill="#e03030"/>
<circle cx="456.6" cy="199.4" r="0.6" fill="#e03030"/>
<circle cx="464.8" cy="176.2" r="0.6" fill="#e03030"/>
<text x="455.6" y="202.3" font-size="4.4" text-anchor="middle" font-weight="bold" fill="#f0f0f0" >PTT</text>
<rect x="478.0" y="164.8" width="40" height="39.5" fill="#070303"/>
<circle cx="517.2" cy="169.5" r="0.45" fill="#e41c1c"/>
<circle cx="508.3" cy="170.8" r="0.47" fill="#e41c1c"/>
<circle cx="479.6" cy="191.2" r="0.57" fill="#e41c1c"/>
<circle cx="500.9" cy="199.4" r="0.41" fill="#e41c1c"/>
<circle cx="505.8" cy="188.3" r="0.50" fill="#e41c1c"/>
<circle cx="496.2" cy="198.0" r="0.63" fill="#e41c1c"/>
<circle cx="497.0" cy="191.0" r="0.32" fill="#e41c1c"/>
<circle cx="506.1" cy="190.4" r="0.65" fill="#e41c1c"/>
<circle cx="510.9" cy="176.0" r="0.44" fill="#e41c1c"/>
<circle cx="504.7" cy="165.7" r="0.46" fill="#e41c1c"/>
<circle cx="484.7" cy="169.4" r="0.32" fill="#e41c1c"/>
<circle cx="508.7" cy="169.9" r="0.39" fill="#e41c1c"/>
<circle cx="493.6" cy="199.2" r="0.33" fill="#e41c1c"/>
<circle cx="496.0" cy="186.5" r="0.61" fill="#e41c1c"/>
<circle cx="510.8" cy="198.9" r="0.40" fill="#e41c1c"/>
<circle cx="494.6" cy="179.0" r="0.61" fill="#e41c1c"/>
<circle cx="516.3" cy="170.8" r="0.36" fill="#e41c1c"/>
<circle cx="487.3" cy="174.0" r="0.47" fill="#e41c1c"/>
<circle cx="501.6" cy="175.2" r="0.30" fill="#e41c1c"/>
<circle cx="494.8" cy="179.4" r="0.50" fill="#e41c1c"/>
<circle cx="516.1" cy="192.1" r="0.48" fill="#e41c1c"/>
<circle cx="502.7" cy="191.5" r="0.32" fill="#e41c1c"/>
<circle cx="514.0" cy="195.6" r="0.61" fill="#e41c1c"/>
<circle cx="509.9" cy="180.3" r="0.44" fill="#e41c1c"/>
<circle cx="482.1" cy="189.9" r="0.32" fill="#e41c1c"/>
<circle cx="480.7" cy="173.0" r="0.36" fill="#e41c1c"/>
<circle cx="491.6" cy="166.9" r="0.30" fill="#e41c1c"/>
<circle cx="484.1" cy="168.8" r="0.43" fill="#e41c1c"/>
<circle cx="479.0" cy="199.3" r="0.51" fill="#e41c1c"/>
<circle cx="483.9" cy="174.8" r="0.42" fill="#e41c1c"/>
<circle cx="492.6" cy="169.7" r="0.60" fill="#e41c1c"/>
<circle cx="517.7" cy="183.2" r="0.47" fill="#e41c1c"/>
<circle cx="481.4" cy="168.8" r="0.42" fill="#e41c1c"/>
<circle cx="488.6" cy="197.5" r="0.36" fill="#e41c1c"/>
<circle cx="478.9" cy="202.4" r="0.48" fill="#e41c1c"/>
<circle cx="483.9" cy="186.3" r="0.31" fill="#e41c1c"/>
<circle cx="499.1" cy="203.5" r="0.60" fill="#e41c1c"/>
<circle cx="505.8" cy="175.1" r="0.43" fill="#e41c1c"/>
<circle cx="484.7" cy="195.3" r="0.49" fill="#e41c1c"/>
<circle cx="509.2" cy="177.8" r="0.38" fill="#e41c1c"/>
<circle cx="510.5" cy="203.7" r="0.60" fill="#e41c1c"/>
<circle cx="510.2" cy="197.1" r="0.56" fill="#e41c1c"/>
<circle cx="487.1" cy="185.2" r="0.42" fill="#e41c1c"/>
<circle cx="479.2" cy="165.9" r="0.40" fill="#e41c1c"/>
<circle cx="488.4" cy="192.2" r="0.63" fill="#e41c1c"/>
<circle cx="495.9" cy="201.8" r="0.65" fill="#e41c1c"/>
<circle cx="516.2" cy="179.2" r="0.38" fill="#e41c1c"/>
<circle cx="487.1" cy="172.6" r="0.37" fill="#e41c1c"/>
<circle cx="503.0" cy="200.4" r="0.59" fill="#e41c1c"/>
<circle cx="497.2" cy="190.6" r="0.58" fill="#e41c1c"/>
<circle cx="481.4" cy="190.9" r="0.62" fill="#e41c1c"/>
<circle cx="509.3" cy="194.4" r="0.47" fill="#e41c1c"/>
<circle cx="485.1" cy="196.0" r="0.42" fill="#e41c1c"/>
<circle cx="510.0" cy="203.2" r="0.44" fill="#e41c1c"/>
<circle cx="494.1" cy="202.2" r="0.55" fill="#e41c1c"/>
<circle cx="484.8" cy="169.8" r="0.35" fill="#e41c1c"/>
<circle cx="514.2" cy="196.7" r="0.35" fill="#e41c1c"/>
<circle cx="511.1" cy="203.5" r="0.53" fill="#e41c1c"/>
<circle cx="492.0" cy="186.5" r="0.35" fill="#e41c1c"/>
<circle cx="478.6" cy="203.2" r="0.53" fill="#e41c1c"/>
<circle cx="499.1" cy="201.7" r="0.45" fill="#e41c1c"/>
<circle cx="512.9" cy="197.4" r="0.37" fill="#e41c1c"/>
<circle cx="488.1" cy="176.4" r="0.38" fill="#e41c1c"/>
<circle cx="501.5" cy="175.0" r="0.45" fill="#e41c1c"/>
<circle cx="483.2" cy="200.7" r="0.42" fill="#e41c1c"/>
<circle cx="496.3" cy="187.8" r="0.62" fill="#e41c1c"/>
<circle cx="494.8" cy="201.0" r="0.48" fill="#e41c1c"/>
<circle cx="499.3" cy="185.5" r="0.31" fill="#e41c1c"/>
<circle cx="495.6" cy="172.0" r="0.30" fill="#e41c1c"/>
<circle cx="510.0" cy="171.6" r="0.47" fill="#e41c1c"/>
<circle cx="507.0" cy="186.8" r="0.41" fill="#e41c1c"/>
<circle cx="498.7" cy="186.7" r="0.57" fill="#e41c1c"/>
<circle cx="482.2" cy="186.9" r="0.39" fill="#e41c1c"/>
<circle cx="489.1" cy="195.3" r="0.48" fill="#e41c1c"/>
<circle cx="500.5" cy="194.8" r="0.62" fill="#e41c1c"/>
<circle cx="495.7" cy="189.0" r="0.48" fill="#e41c1c"/>
<circle cx="498.5" cy="192.2" r="0.46" fill="#e41c1c"/>
<circle cx="499.3" cy="183.7" r="0.63" fill="#e41c1c"/>
<circle cx="506.0" cy="199.4" r="0.63" fill="#e41c1c"/>
<circle cx="488.4" cy="186.9" r="0.63" fill="#e41c1c"/>
<circle cx="511.6" cy="170.2" r="0.34" fill="#e41c1c"/>
<circle cx="495.7" cy="167.7" r="0.38" fill="#e41c1c"/>
<circle cx="480.9" cy="191.2" r="0.57" fill="#e41c1c"/>
<circle cx="513.9" cy="170.9" r="0.55" fill="#e41c1c"/>
<circle cx="504.4" cy="170.4" r="0.61" fill="#e41c1c"/>
<circle cx="516.7" cy="173.5" r="0.63" fill="#e41c1c"/>
<circle cx="493.9" cy="184.0" r="0.65" fill="#e41c1c"/>
<circle cx="511.3" cy="171.2" r="0.45" fill="#e41c1c"/>
<circle cx="498.6" cy="178.2" r="0.37" fill="#e41c1c"/>
<circle cx="490.7" cy="193.3" r="0.31" fill="#e41c1c"/>
<circle cx="500.2" cy="182.2" r="0.31" fill="#e41c1c"/>
<circle cx="491.3" cy="189.4" r="0.48" fill="#e41c1c"/>
<circle cx="480.6" cy="203.7" r="0.58" fill="#e41c1c"/>
<circle cx="516.9" cy="168.9" r="0.39" fill="#e41c1c"/>
<circle cx="479.6" cy="195.6" r="0.39" fill="#e41c1c"/>
<circle cx="483.2" cy="181.5" r="0.62" fill="#e41c1c"/>
<circle cx="510.8" cy="175.0" r="0.35" fill="#e41c1c"/>
<circle cx="514.8" cy="187.3" r="0.55" fill="#e41c1c"/>
<circle cx="481.6" cy="167.1" r="0.54" fill="#e41c1c"/>
<circle cx="495.0" cy="167.7" r="0.63" fill="#e41c1c"/>
<circle cx="503.4" cy="196.5" r="0.33" fill="#e41c1c"/>
<circle cx="512.2" cy="167.4" r="0.60" fill="#e41c1c"/>
<circle cx="496.2" cy="178.2" r="0.49" fill="#e41c1c"/>
<circle cx="515.1" cy="175.4" r="0.35" fill="#e41c1c"/>
<circle cx="499.1" cy="174.2" r="0.34" fill="#e41c1c"/>
<circle cx="484.5" cy="166.8" r="0.37" fill="#e41c1c"/>
<circle cx="490.5" cy="176.8" r="0.57" fill="#e41c1c"/>
<circle cx="489.6" cy="184.6" r="0.36" fill="#e41c1c"/>
<circle cx="491.9" cy="165.5" r="0.39" fill="#e41c1c"/>
<circle cx="478.6" cy="193.8" r="0.49" fill="#e41c1c"/>
<circle cx="485.6" cy="183.6" r="0.63" fill="#e41c1c"/>
<circle cx="482.3" cy="197.1" r="0.45" fill="#e41c1c"/>
<circle cx="497.8" cy="197.8" r="0.44" fill="#e41c1c"/>
<circle cx="498.3" cy="192.0" r="0.64" fill="#e41c1c"/>
<circle cx="491.7" cy="197.7" r="0.55" fill="#e41c1c"/>
<circle cx="503.4" cy="180.8" r="0.42" fill="#e41c1c"/>
<circle cx="480.2" cy="169.9" r="0.32" fill="#e41c1c"/>
<circle cx="507.6" cy="174.9" r="0.36" fill="#e41c1c"/>
<circle cx="481.4" cy="198.0" r="0.60" fill="#e41c1c"/>
<circle cx="504.8" cy="175.9" r="0.38" fill="#e41c1c"/>
<circle cx="489.7" cy="182.9" r="0.36" fill="#e41c1c"/>
<circle cx="495.8" cy="175.2" r="0.64" fill="#e41c1c"/>
<circle cx="516.9" cy="186.4" r="0.39" fill="#e41c1c"/>
<circle cx="516.6" cy="177.0" r="0.42" fill="#e41c1c"/>
<circle cx="478.0" cy="179.9" r="0.47" fill="#e41c1c"/>
<circle cx="498.1" cy="172.7" r="0.48" fill="#e41c1c"/>
<circle cx="478.2" cy="175.2" r="0.33" fill="#e41c1c"/>
<circle cx="494.0" cy="166.4" r="0.31" fill="#e41c1c"/>
<circle cx="490.2" cy="174.0" r="0.50" fill="#e41c1c"/>
<circle cx="499.2" cy="194.4" r="0.53" fill="#e41c1c"/>
<circle cx="506.6" cy="199.5" r="0.44" fill="#e41c1c"/>
<circle cx="491.0" cy="203.7" r="0.35" fill="#e41c1c"/>
<circle cx="507.0" cy="190.2" r="0.32" fill="#e41c1c"/>
<circle cx="511.4" cy="200.0" r="0.52" fill="#e41c1c"/>
<circle cx="507.4" cy="196.9" r="0.35" fill="#e41c1c"/>
<circle cx="499.0" cy="184.7" r="0.59" fill="#e41c1c"/>
<circle cx="510.2" cy="197.4" r="0.50" fill="#e41c1c"/>
<circle cx="513.7" cy="191.8" r="0.54" fill="#e41c1c"/>
<circle cx="487.2" cy="166.0" r="0.35" fill="#e41c1c"/>
<circle cx="492.4" cy="168.9" r="0.59" fill="#e41c1c"/>
<circle cx="500.3" cy="189.6" r="0.52" fill="#e41c1c"/>
<circle cx="505.2" cy="184.1" r="0.30" fill="#e41c1c"/>
<circle cx="509.9" cy="194.4" r="0.48" fill="#e41c1c"/>
<circle cx="499.4" cy="190.8" r="0.32" fill="#e41c1c"/>
<circle cx="507.5" cy="174.8" r="0.33" fill="#e41c1c"/>
<circle cx="488.6" cy="193.6" r="0.37" fill="#e41c1c"/>
<circle cx="507.6" cy="203.3" r="0.47" fill="#e41c1c"/>
<circle cx="493.3" cy="183.7" r="0.54" fill="#e41c1c"/>
<circle cx="508.7" cy="189.2" r="0.52" fill="#e41c1c"/>
<circle cx="481.1" cy="170.6" r="0.39" fill="#e41c1c"/>
<circle cx="507.7" cy="176.8" r="0.50" fill="#e41c1c"/>
<circle cx="478.5" cy="167.2" r="0.39" fill="#e41c1c"/>
<circle cx="504.9" cy="192.1" r="0.54" fill="#e41c1c"/>
<circle cx="489.6" cy="185.2" r="0.46" fill="#e41c1c"/>
<circle cx="496.7" cy="169.5" r="0.61" fill="#e41c1c"/>
<circle cx="486.0" cy="203.4" r="0.63" fill="#e41c1c"/>
<circle cx="478.7" cy="182.9" r="0.59" fill="#e41c1c"/>
<circle cx="516.7" cy="182.6" r="0.39" fill="#e41c1c"/>
<circle cx="486.4" cy="202.2" r="0.37" fill="#e41c1c"/>
<circle cx="501.3" cy="170.4" r="0.48" fill="#e41c1c"/>
<circle cx="516.1" cy="170.0" r="0.59" fill="#e41c1c"/>
<circle cx="498.3" cy="199.8" r="0.55" fill="#e41c1c"/>
<circle cx="487.3" cy="200.3" r="0.47" fill="#e41c1c"/>
<circle cx="479.0" cy="164.9" r="0.47" fill="#e41c1c"/>
<circle cx="496.0" cy="176.7" r="0.35" fill="#e41c1c"/>
<circle cx="491.8" cy="177.3" r="0.59" fill="#e41c1c"/>
<circle cx="478.1" cy="194.5" r="0.59" fill="#e41c1c"/>
<circle cx="482.8" cy="201.4" r="0.55" fill="#e41c1c"/>
<circle cx="514.1" cy="176.2" r="0.43" fill="#e41c1c"/>
<circle cx="493.7" cy="204.3" r="0.51" fill="#e41c1c"/>
<circle cx="492.4" cy="181.7" r="0.40" fill="#e41c1c"/>
<circle cx="479.9" cy="168.8" r="0.59" fill="#e41c1c"/>
<circle cx="489.4" cy="201.8" r="0.39" fill="#e41c1c"/>
<circle cx="488.6" cy="185.0" r="0.37" fill="#e41c1c"/>
<circle cx="492.9" cy="202.6" r="0.61" fill="#e41c1c"/>
<circle cx="510.5" cy="189.7" r="0.62" fill="#e41c1c"/>
<circle cx="515.6" cy="186.5" r="0.55" fill="#e41c1c"/>
<circle cx="480.0" cy="193.7" r="0.46" fill="#e41c1c"/>
<circle cx="508.1" cy="190.3" r="0.40" fill="#e41c1c"/>
<circle cx="480.0" cy="201.4" r="0.34" fill="#e41c1c"/>
<circle cx="496.9" cy="178.4" r="0.40" fill="#e41c1c"/>
<circle cx="507.6" cy="203.4" r="0.39" fill="#e41c1c"/>
<circle cx="504.2" cy="176.7" r="0.50" fill="#e41c1c"/>
<circle cx="493.8" cy="171.4" r="0.36" fill="#e41c1c"/>
<circle cx="486.3" cy="200.6" r="0.47" fill="#e41c1c"/>
<circle cx="486.8" cy="200.6" r="0.65" fill="#e41c1c"/>
<circle cx="496.0" cy="170.3" r="0.37" fill="#e41c1c"/>
<circle cx="481.6" cy="178.3" r="0.33" fill="#e41c1c"/>
<circle cx="487.6" cy="175.0" r="0.50" fill="#e41c1c"/>
<circle cx="513.5" cy="194.4" r="0.44" fill="#e41c1c"/>
<circle cx="494.6" cy="185.5" r="0.43" fill="#e41c1c"/>
<circle cx="491.5" cy="167.3" r="0.40" fill="#e41c1c"/>
<circle cx="516.7" cy="169.8" r="0.48" fill="#e41c1c"/>
<circle cx="503.2" cy="198.9" r="0.38" fill="#e41c1c"/>
<circle cx="488.8" cy="174.6" r="0.44" fill="#e41c1c"/>
<circle cx="495.8" cy="202.5" r="0.60" fill="#e41c1c"/>
<circle cx="512.9" cy="165.7" r="0.31" fill="#e41c1c"/>
<circle cx="506.4" cy="200.2" r="0.47" fill="#e41c1c"/>
<circle cx="501.5" cy="164.8" r="0.44" fill="#e41c1c"/>
<circle cx="515.1" cy="197.4" r="0.60" fill="#e41c1c"/>
<circle cx="516.9" cy="174.6" r="0.34" fill="#e41c1c"/>
<circle cx="484.2" cy="185.4" r="0.54" fill="#e41c1c"/>
<circle cx="515.7" cy="193.3" r="0.53" fill="#e41c1c"/>
<circle cx="508.6" cy="182.9" r="0.49" fill="#e41c1c"/>
<circle cx="479.6" cy="195.7" r="0.38" fill="#e41c1c"/>
<circle cx="514.8" cy="190.3" r="0.41" fill="#e41c1c"/>
<circle cx="483.1" cy="174.7" r="0.52" fill="#e41c1c"/>
<circle cx="505.9" cy="169.2" r="0.32" fill="#e41c1c"/>
<circle cx="499.0" cy="187.8" r="0.44" fill="#e41c1c"/>
<circle cx="486.9" cy="188.5" r="0.30" fill="#e41c1c"/>
<circle cx="490.1" cy="183.0" r="0.64" fill="#e41c1c"/>
<circle cx="503.8" cy="199.7" r="0.47" fill="#e41c1c"/>
<circle cx="487.4" cy="174.6" r="0.64" fill="#e41c1c"/>
<circle cx="506.2" cy="176.9" r="0.31" fill="#e41c1c"/>
<circle cx="497.9" cy="191.4" r="0.45" fill="#e41c1c"/>
<circle cx="488.3" cy="191.2" r="0.62" fill="#e41c1c"/>
<circle cx="487.1" cy="166.1" r="0.42" fill="#e41c1c"/>
<circle cx="494.8" cy="191.8" r="0.37" fill="#e41c1c"/>
<circle cx="509.9" cy="194.0" r="0.48" fill="#e41c1c"/>
<circle cx="486.2" cy="203.1" r="0.41" fill="#e41c1c"/>
<circle cx="510.8" cy="173.9" r="0.38" fill="#e41c1c"/>
<circle cx="508.4" cy="176.4" r="0.63" fill="#e41c1c"/>
<circle cx="497.8" cy="172.2" r="0.38" fill="#e41c1c"/>
<circle cx="494.7" cy="191.1" r="0.63" fill="#e41c1c"/>
<circle cx="483.9" cy="180.3" r="0.37" fill="#e41c1c"/>
<circle cx="517.0" cy="170.4" r="0.32" fill="#e41c1c"/>
<circle cx="480.4" cy="180.3" r="0.61" fill="#e41c1c"/>
<circle cx="513.3" cy="193.7" r="0.65" fill="#e41c1c"/>
<circle cx="515.3" cy="177.8" r="0.36" fill="#e41c1c"/>
<circle cx="515.4" cy="194.3" r="0.31" fill="#e41c1c"/>
<circle cx="504.6" cy="179.8" r="0.43" fill="#e41c1c"/>
<circle cx="491.3" cy="171.5" r="0.30" fill="#e41c1c"/>
<circle cx="489.2" cy="178.7" r="0.63" fill="#e41c1c"/>
<circle cx="482.9" cy="202.9" r="0.37" fill="#e41c1c"/>
<circle cx="492.3" cy="197.3" r="0.59" fill="#e41c1c"/>
<circle cx="495.3" cy="166.7" r="0.47" fill="#e41c1c"/>
<circle cx="492.9" cy="201.1" r="0.37" fill="#e41c1c"/>
<circle cx="492.6" cy="200.2" r="0.31" fill="#e41c1c"/>
<circle cx="494.4" cy="196.9" r="0.57" fill="#e41c1c"/>
<circle cx="479.6" cy="166.2" r="0.32" fill="#e41c1c"/>
<circle cx="514.8" cy="175.0" r="0.56" fill="#e41c1c"/>
<circle cx="513.9" cy="178.2" r="0.40" fill="#e41c1c"/>
<circle cx="516.3" cy="189.2" r="0.39" fill="#e41c1c"/>
<circle cx="506.7" cy="177.3" r="0.40" fill="#e41c1c"/>
<circle cx="478.2" cy="194.6" r="0.62" fill="#e41c1c"/>
<circle cx="503.4" cy="202.1" r="0.31" fill="#e41c1c"/>
<circle cx="487.4" cy="183.6" r="0.63" fill="#e41c1c"/>
<circle cx="516.2" cy="180.1" r="0.39" fill="#e41c1c"/>
<circle cx="495.2" cy="184.3" r="0.62" fill="#e41c1c"/>
<circle cx="485.3" cy="196.5" r="0.56" fill="#e41c1c"/>
<circle cx="510.9" cy="195.3" r="0.51" fill="#e41c1c"/>
<circle cx="491.1" cy="177.4" r="0.43" fill="#e41c1c"/>
<circle cx="509.3" cy="167.9" r="0.37" fill="#e41c1c"/>
<circle cx="508.1" cy="174.6" r="0.32" fill="#e41c1c"/>
<circle cx="479.4" cy="186.6" r="0.41" fill="#e41c1c"/>
<circle cx="517.2" cy="199.7" r="0.65" fill="#e41c1c"/>
<circle cx="488.6" cy="168.1" r="0.33" fill="#e41c1c"/>
<circle cx="497.9" cy="192.8" r="0.46" fill="#e41c1c"/>
<circle cx="487.4" cy="181.3" r="0.52" fill="#e41c1c"/>
<circle cx="505.0" cy="194.3" r="0.60" fill="#e41c1c"/>
<circle cx="504.6" cy="169.6" r="0.4" fill="#20a020"/>
<circle cx="511.6" cy="176.4" r="0.4" fill="#20a020"/>
<circle cx="500.7" cy="179.5" r="0.4" fill="#20a020"/>
<circle cx="507.5" cy="172.7" r="0.4" fill="#20a020"/>
<circle cx="487.9" cy="174.5" r="0.4" fill="#20a020"/>
<circle cx="484.1" cy="199.7" r="0.4" fill="#20a020"/>
<text x="498.0" y="202.3" font-size="4.4" text-anchor="middle" font-weight="bold" fill="#f0f0f0" >PTT+PDT</text>
<defs><filter id="tblur" x="-20%" y="-20%" width="140%" height="140%"><feGaussianBlur stdDeviation="0.6"/></filter><filter id="tblur2" x="-50%" y="-50%" width="200%" height="200%"><feGaussianBlur stdDeviation="0.5"/></filter></defs>
<text x="6.8" y="239.8" font-size="11.6" text-anchor="start" font-weight="bold" fill="#111" style="font-family:Liberation Serif,serif" stroke="#111" stroke-width="0.2">iii</text>
<text x="21.8" y="236.4" font-size="7.2" text-anchor="start" font-weight="bold" fill="#111" >(a)</text>
<text x="54.0" y="233.6" font-size="4.7" text-anchor="middle" font-weight="normal" fill="#222" >0 S</text>
<text x="99.0" y="233.6" font-size="4.7" text-anchor="middle" font-weight="normal" fill="#222" >300 S</text>
<rect x="37.1" y="235.0" width="32.9" height="22.2" fill="#0d2074"/>
<path d="M40.4,251.0 41.7,247.9 45.0,245.7 49.6,243.9 53.5,243.2 57.5,242.5 60.8,243.2 63.4,244.8 65.7,245.7 67.0,248.3 66.1,251.0 61.8,252.1 53.5,252.3 43.7,252.3Z" fill="#1c46b8" filter="url(#tblur)" opacity="0.8"/>
<text x="53.5" y="255.2" font-size="4.3" text-anchor="middle" font-weight="bold" fill="#e4e8ff" >33.5 °C</text>
<rect x="82.2" y="235.0" width="33.8" height="22.2" fill="#0d2074"/>
<path d="M85.6,251.0 86.9,247.9 90.3,245.7 95.0,243.9 99.1,243.2 103.2,242.5 106.5,243.2 109.2,244.8 111.6,245.7 113.0,248.3 111.9,251.0 107.5,252.1 99.1,252.3 89.0,252.3Z" fill="#1c46b8" filter="url(#tblur)" opacity="0.8"/>
<circle cx="89.0" cy="243.0" r="1.6" fill="#30b040" filter="url(#tblur2)"/>
<circle cx="89.0" cy="243.0" r="0.9" fill="#58d048"/>
<text x="99.1" y="255.2" font-size="4.3" text-anchor="middle" font-weight="bold" fill="#e4e8ff" >41.5 °C</text>
<rect x="37.1" y="266.3" width="32.9" height="22.2" fill="#0d2074"/>
<path d="M40.4,282.3 41.7,279.2 45.0,277.0 49.6,275.2 53.5,274.5 57.5,273.8 60.8,274.5 63.4,276.1 65.7,277.0 67.0,279.6 66.1,282.3 61.8,283.4 53.5,283.6 43.7,283.6Z" fill="#1c46b8" filter="url(#tblur)" opacity="0.8"/>
<text x="53.5" y="286.5" font-size="4.3" text-anchor="middle" font-weight="bold" fill="#e4e8ff" >32.2 °C</text>
<rect x="82.2" y="266.3" width="33.8" height="22.2" fill="#0d2074"/>
<path d="M85.6,282.3 86.9,279.2 90.3,277.0 95.0,275.2 99.1,274.5 103.2,273.8 106.5,274.5 109.2,276.1 111.6,277.0 113.0,279.6 111.9,282.3 107.5,283.4 99.1,283.6 89.0,283.6Z" fill="#1c46b8" filter="url(#tblur)" opacity="0.8"/>
<text x="99.1" y="286.5" font-size="4.3" text-anchor="middle" font-weight="bold" fill="#e4e8ff" >40.5 °C</text>
<rect x="37.1" y="297.3" width="32.9" height="22.2" fill="#0d2074"/>
<path d="M40.4,313.3 41.7,310.2 45.0,308.0 49.6,306.2 53.5,305.5 57.5,304.8 60.8,305.5 63.4,307.1 65.7,308.0 67.0,310.6 66.1,313.3 61.8,314.4 53.5,314.6 43.7,314.6Z" fill="#1c46b8" filter="url(#tblur)" opacity="0.8"/>
<text x="53.5" y="317.5" font-size="4.3" text-anchor="middle" font-weight="bold" fill="#e4e8ff" >35.8 °C</text>
<rect x="82.2" y="297.3" width="33.8" height="22.2" fill="#0d2074"/>
<path d="M85.6,313.3 86.9,310.2 90.3,308.0 95.0,306.2 99.1,305.5 103.2,304.8 106.5,305.5 109.2,307.1 111.6,308.0 113.0,310.6 111.9,313.3 107.5,314.4 99.1,314.6 89.0,314.6Z" fill="#1c46b8" filter="url(#tblur)" opacity="0.8"/>
<circle cx="89.6" cy="306.6" r="1.6" fill="#30b040" filter="url(#tblur2)"/>
<circle cx="89.6" cy="306.6" r="0.9" fill="#b8e030"/>
<text x="99.1" y="317.5" font-size="4.3" text-anchor="middle" font-weight="bold" fill="#e4e8ff" >46.4 °C</text>
<rect x="37.1" y="328.2" width="32.9" height="22.2" fill="#0d2074"/>
<path d="M40.4,344.2 41.7,341.1 45.0,338.9 49.6,337.1 53.5,336.4 57.5,335.7 60.8,336.4 63.4,338.0 65.7,338.9 67.0,341.5 66.1,344.2 61.8,345.3 53.5,345.5 43.7,345.5Z" fill="#1c46b8" filter="url(#tblur)" opacity="0.8"/>
<text x="53.5" y="348.4" font-size="4.3" text-anchor="middle" font-weight="bold" fill="#e4e8ff" >33.5 °C</text>
<rect x="82.2" y="328.2" width="33.8" height="22.2" fill="#0d2074"/>
<path d="M85.6,344.2 86.9,341.1 90.3,338.9 95.0,337.1 99.1,336.4 103.2,335.7 106.5,336.4 109.2,338.0 111.6,338.9 113.0,341.5 111.9,344.2 107.5,345.3 99.1,345.5 89.0,345.5Z" fill="#1c46b8" filter="url(#tblur)" opacity="0.8"/>
<circle cx="87.6" cy="340.4" r="1.6" fill="#30b040" filter="url(#tblur2)"/>
<circle cx="87.6" cy="340.4" r="0.9" fill="#c0e030"/>
<text x="99.1" y="348.4" font-size="4.3" text-anchor="middle" font-weight="bold" fill="#e4e8ff" >48.8 °C</text>
<text x="33.6" y="248.3" font-size="4.7" text-anchor="end" font-weight="normal" fill="#1a1a1a" >Blank</text>
<text x="33.6" y="279.3" font-size="4.7" text-anchor="end" font-weight="normal" fill="#1a1a1a" >PDT</text>
<text x="33.6" y="310.2" font-size="4.7" text-anchor="end" font-weight="normal" fill="#1a1a1a" >PTT</text>
<text x="29.8" y="336.2" font-size="4.7" text-anchor="middle" font-weight="normal" fill="#1a1a1a" >PDT</text>
<text x="29.8" y="341.2" font-size="4.7" text-anchor="middle" font-weight="normal" fill="#1a1a1a" >+</text>
<text x="29.8" y="346.6" font-size="4.7" text-anchor="middle" font-weight="normal" fill="#1a1a1a" >PTT</text>
<defs><linearGradient id="cb" x1="0" y1="0" x2="0" y2="1"><stop offset="0" stop-color="#fbe8ee"/><stop offset="0.1" stop-color="#f890a0"/><stop offset="0.25" stop-color="#f01830"/><stop offset="0.42" stop-color="#f08a10"/><stop offset="0.55" stop-color="#e8d820"/><stop offset="0.68" stop-color="#40b030"/><stop offset="0.82" stop-color="#1878c0"/><stop offset="1" stop-color="#12208a"/></linearGradient></defs>
<rect x="119.3" y="303.5" width="3.3" height="44.8" fill="url(#cb)"/>
<text x="118.4" y="299.4" font-size="4.9" text-anchor="start" font-weight="normal" fill="#333" >65° C</text>
<text x="118.4" y="353.8" font-size="4.9" text-anchor="start" font-weight="normal" fill="#333" >30° C</text>
<text x="22.6" y="361.4" font-size="7.4" text-anchor="start" font-weight="bold" fill="#111" >(d)</text>
<rect x="36" y="357.0" width="85.6" height="24" rx="1.5" fill="#2c2c2a"/>
<rect x="37" y="357.8" width="83.6" height="22.4" rx="1.2" fill="#41413e"/>
<ellipse cx="51" cy="368.4" rx="5.8" ry="5.4" fill="#e27e5c"/>
<ellipse cx="51.6" cy="368.8" rx="3.2" ry="2.7" fill="#c45a46" opacity="0.6" filter="url(#tblur)"/>
<ellipse cx="71.6" cy="367.6" rx="6.0" ry="5.2" fill="#eaae96"/>
<ellipse cx="72.2" cy="368.0" rx="3.3" ry="2.6" fill="#c86a58" opacity="0.6" filter="url(#tblur)"/>
<ellipse cx="92.2" cy="368.2" rx="3.8" ry="3.6" fill="#e27656"/>
<ellipse cx="92.8" cy="368.6" rx="2.1" ry="1.8" fill="#a83a2c" opacity="0.6" filter="url(#tblur)"/>
<rect x="108.9" y="368.2" width="3" height="2.4" rx="0.8" fill="#e2a27e"/>
<text x="103.6" y="378.2" font-size="4.4" text-anchor="middle" font-weight="bold" fill="#f2f2f2" >1 cm</text>
<rect x="109.6" y="376.6" width="9.4" height="1.0" fill="#eee"/>
<text x="131.8" y="233.5" font-size="7.8" text-anchor="start" font-weight="bold" fill="#111" >(b)</text>
<rect x="150.7" y="234.8" width="82.6" height="61.0" fill="#fff" stroke="#333" stroke-width="0.5"/>
<line x1="149.29999999999998" y1="283.0" x2="150.7" y2="283.0" stroke="#333" stroke-width="0.5"/>
<text x="148.7" y="284.7" font-size="4.9" text-anchor="end" font-weight="normal" fill="#222" >35</text>
<line x1="149.29999999999998" y1="268.0" x2="150.7" y2="268.0" stroke="#333" stroke-width="0.5"/>
<text x="148.7" y="269.7" font-size="4.9" text-anchor="end" font-weight="normal" fill="#222" >40</text>
<line x1="149.29999999999998" y1="253.1" x2="150.7" y2="253.1" stroke="#333" stroke-width="0.5"/>
<text x="148.7" y="254.8" font-size="4.9" text-anchor="end" font-weight="normal" fill="#222" >45</text>
<line x1="149.29999999999998" y1="238.1" x2="150.7" y2="238.1" stroke="#333" stroke-width="0.5"/>
<text x="148.7" y="239.8" font-size="4.9" text-anchor="end" font-weight="normal" fill="#222" >50</text>
<line x1="155.9" y1="295.8" x2="155.9" y2="297.2" stroke="#333" stroke-width="0.5"/>
<text x="155.9" y="302.7" font-size="4.9" text-anchor="middle" font-weight="normal" fill="#222" >0</text>
<line x1="167.6" y1="295.8" x2="167.6" y2="297.2" stroke="#333" stroke-width="0.5"/>
<text x="167.6" y="302.7" font-size="4.9" text-anchor="middle" font-weight="normal" fill="#222" >50</text>
<line x1="179.4" y1="295.8" x2="179.4" y2="297.2" stroke="#333" stroke-width="0.5"/>
<text x="179.4" y="302.7" font-size="4.9" text-anchor="middle" font-weight="normal" fill="#222" >100</text>
<line x1="191.1" y1="295.8" x2="191.1" y2="297.2" stroke="#333" stroke-width="0.5"/>
<text x="191.1" y="302.7" font-size="4.9" text-anchor="middle" font-weight="normal" fill="#222" >150</text>
<line x1="202.8" y1="295.8" x2="202.8" y2="297.2" stroke="#333" stroke-width="0.5"/>
<text x="202.8" y="302.7" font-size="4.9" text-anchor="middle" font-weight="normal" fill="#222" >200</text>
<line x1="214.6" y1="295.8" x2="214.6" y2="297.2" stroke="#333" stroke-width="0.5"/>
<text x="214.6" y="302.7" font-size="4.9" text-anchor="middle" font-weight="normal" fill="#222" >250</text>
<line x1="226.3" y1="295.8" x2="226.3" y2="297.2" stroke="#333" stroke-width="0.5"/>
<text x="226.3" y="302.7" font-size="4.9" text-anchor="middle" font-weight="normal" fill="#222" >300</text>
<text x="192.0" y="308.1" font-size="4.8" text-anchor="middle" font-weight="bold" fill="#222" >Time (s)</text>
<text x="0" y="0" font-size="4.8" text-anchor="middle" fill="#222" transform="translate(141.3,266.3) rotate(-90)">Temperature (°C)</text>
<path d="M155.9,287.5 L170.0,278.5 L184.1,273.1 L198.1,271.6 L212.2,268.9 L226.3,263.5" fill="none" stroke="#222" stroke-width="0.6"/>
<rect x="154.8" y="286.4" width="2.2" height="2.2" fill="#222"/>
<rect x="168.9" y="277.4" width="2.2" height="2.2" fill="#222"/>
<rect x="183.0" y="272.0" width="2.2" height="2.2" fill="#222"/>
<rect x="197.0" y="270.5" width="2.2" height="2.2" fill="#222"/>
<rect x="211.1" y="267.8" width="2.2" height="2.2" fill="#222"/>
<rect x="225.2" y="262.4" width="2.2" height="2.2" fill="#222"/>
<path d="M155.9,291.4 L170.0,274.6 L184.1,271.0 L198.1,268.0 L212.2,268.6 L226.3,266.5" fill="none" stroke="#f02020" stroke-width="0.6"/>
<circle cx="155.9" cy="291.4" r="1.1" fill="#f02020"/>
<circle cx="170.0" cy="274.6" r="1.1" fill="#f02020"/>
<circle cx="184.1" cy="271.0" r="1.1" fill="#f02020"/>
<circle cx="198.1" cy="268.0" r="1.1" fill="#f02020"/>
<circle cx="212.2" cy="268.6" r="1.1" fill="#f02020"/>
<circle cx="226.3" cy="266.5" r="1.1" fill="#f02020"/>
<path d="M155.9,280.6 L170.0,262.0 L184.1,253.7 L198.1,252.2 L212.2,251.3 L226.3,248.9" fill="none" stroke="#2040c0" stroke-width="0.6"/>
<path d="M155.9 279.3L157.2 281.7L154.6 281.7Z" fill="#2040c0"/>
<path d="M170.0 260.7L171.3 263.1L168.7 263.1Z" fill="#2040c0"/>
<path d="M184.1 252.3L185.4 254.8L182.7 254.8Z" fill="#2040c0"/>
<path d="M198.1 250.8L199.5 253.3L196.8 253.3Z" fill="#2040c0"/>
<path d="M212.2 250.0L213.5 252.4L210.9 252.4Z" fill="#2040c0"/>
<path d="M226.3 247.6L227.6 250.0L225.0 250.0Z" fill="#2040c0"/>
<path d="M155.9,287.5 L170.0,262.6 L184.1,251.6 L198.1,248.3 L212.2,244.1 L226.3,241.7" fill="none" stroke="#e040c0" stroke-width="0.6"/>
<path d="M155.9 288.8L157.2 286.4L154.6 286.4Z" fill="#e040c0"/>
<path d="M170.0 264.0L171.3 261.5L168.7 261.5Z" fill="#e040c0"/>
<path d="M184.1 252.9L185.4 250.5L182.7 250.5Z" fill="#e040c0"/>
<path d="M198.1 249.6L199.5 247.2L196.8 247.2Z" fill="#e040c0"/>
<path d="M212.2 245.4L213.5 243.0L210.9 243.0Z" fill="#e040c0"/>
<path d="M226.3 243.0L227.6 240.6L225.0 240.6Z" fill="#e040c0"/>
<line x1="152.9" y1="238.5" x2="160.2" y2="238.5" stroke="#222" stroke-width="0.6"/>
<rect x="155.6" y="237.6" width="1.8" height="1.8" fill="#222"/>
<text x="161.3" y="240.1" font-size="4.5" text-anchor="start" font-weight="normal" fill="#111" >Blank</text>
<line x1="152.9" y1="242.5" x2="160.2" y2="242.5" stroke="#f02020" stroke-width="0.6"/>
<circle cx="156.5" cy="242.5" r="0.9" fill="#f02020"/>
<text x="161.3" y="244.1" font-size="4.5" text-anchor="start" font-weight="normal" fill="#111" >PDT</text>
<line x1="152.9" y1="246.5" x2="160.2" y2="246.5" stroke="#2040c0" stroke-width="0.6"/>
<path d="M156.5 245.4L157.6 247.4L155.4 247.4Z" fill="#2040c0"/>
<text x="161.3" y="248.1" font-size="4.5" text-anchor="start" font-weight="normal" fill="#111" >PTT</text>
<line x1="152.9" y1="250.5" x2="160.2" y2="250.5" stroke="#e040c0" stroke-width="0.6"/>
<path d="M156.5 251.6L157.6 249.6L155.4 249.6Z" fill="#e040c0"/>
<text x="161.3" y="252.1" font-size="4.5" text-anchor="start" font-weight="normal" fill="#111" >PDT+PTT</text>
<text x="131.9" y="305.7" font-size="7.8" text-anchor="start" font-weight="bold" fill="#111" >(c)</text>
<rect x="150.4" y="310.4" width="82.0" height="63.5" fill="#fff" stroke="#333" stroke-width="0.5"/>
<line x1="149.0" y1="373.4" x2="150.4" y2="373.4" stroke="#333" stroke-width="0.5"/>
<text x="148.2" y="375.1" font-size="4.9" text-anchor="end" font-weight="normal" fill="#222" >0</text>
<line x1="149.0" y1="357.9" x2="150.4" y2="357.9" stroke="#333" stroke-width="0.5"/>
<text x="148.2" y="359.6" font-size="4.9" text-anchor="end" font-weight="normal" fill="#222" >2</text>
<line x1="149.0" y1="342.4" x2="150.4" y2="342.4" stroke="#333" stroke-width="0.5"/>
<text x="148.2" y="344.1" font-size="4.9" text-anchor="end" font-weight="normal" fill="#222" >4</text>
<line x1="149.0" y1="327.0" x2="150.4" y2="327.0" stroke="#333" stroke-width="0.5"/>
<text x="148.2" y="328.7" font-size="4.9" text-anchor="end" font-weight="normal" fill="#222" >6</text>
<line x1="149.0" y1="311.5" x2="150.4" y2="311.5" stroke="#333" stroke-width="0.5"/>
<text x="148.2" y="313.2" font-size="4.9" text-anchor="end" font-weight="normal" fill="#222" >8</text>
<line x1="155.7" y1="373.9" x2="155.7" y2="375.29999999999995" stroke="#333" stroke-width="0.5"/>
<text x="155.7" y="379.8" font-size="4.9" text-anchor="middle" font-weight="normal" fill="#222" >0</text>
<line x1="166.1" y1="373.9" x2="166.1" y2="375.29999999999995" stroke="#333" stroke-width="0.5"/>
<text x="166.1" y="379.8" font-size="4.9" text-anchor="middle" font-weight="normal" fill="#222" >2</text>
<line x1="176.5" y1="373.9" x2="176.5" y2="375.29999999999995" stroke="#333" stroke-width="0.5"/>
<text x="176.5" y="379.8" font-size="4.9" text-anchor="middle" font-weight="normal" fill="#222" >4</text>
<line x1="186.9" y1="373.9" x2="186.9" y2="375.29999999999995" stroke="#333" stroke-width="0.5"/>
<text x="186.9" y="379.8" font-size="4.9" text-anchor="middle" font-weight="normal" fill="#222" >6</text>
<line x1="197.3" y1="373.9" x2="197.3" y2="375.29999999999995" stroke="#333" stroke-width="0.5"/>
<text x="197.3" y="379.8" font-size="4.9" text-anchor="middle" font-weight="normal" fill="#222" >8</text>
<line x1="207.7" y1="373.9" x2="207.7" y2="375.29999999999995" stroke="#333" stroke-width="0.5"/>
<text x="207.7" y="379.8" font-size="4.9" text-anchor="middle" font-weight="normal" fill="#222" >10</text>
<line x1="218.1" y1="373.9" x2="218.1" y2="375.29999999999995" stroke="#333" stroke-width="0.5"/>
<text x="218.1" y="379.8" font-size="4.9" text-anchor="middle" font-weight="normal" fill="#222" >12</text>
<line x1="228.5" y1="373.9" x2="228.5" y2="375.29999999999995" stroke="#333" stroke-width="0.5"/>
<text x="228.5" y="379.8" font-size="4.9" text-anchor="middle" font-weight="normal" fill="#222" >14</text>
<text x="191.4" y="384.2" font-size="4.8" text-anchor="middle" font-weight="bold" fill="#222" >Time (day)</text>
<text x="0" y="0" font-size="4.5" text-anchor="middle" fill="#222" transform="translate(142.6,342.1) rotate(-90)">Relative tumor volume</text>
<path d="M155.7,365.7 L171.3,361.0 L181.7,357.2 L192.1,349.4 L207.7,337.0 L223.3,320.8" fill="none" stroke="#222" stroke-width="0.6"/>
<path d="M155.7 366.8V364.5M154.9 366.8h1.6M154.9 364.5h1.6" stroke="#222" stroke-width="0.4" fill="none"/>
<rect x="154.8" y="364.8" width="1.8" height="1.8" fill="#222"/>
<path d="M171.3 363.3V358.7M170.5 363.3h1.6M170.5 358.7h1.6" stroke="#222" stroke-width="0.4" fill="none"/>
<rect x="170.4" y="360.1" width="1.8" height="1.8" fill="#222"/>
<path d="M181.7 360.2V354.1M180.9 360.2h1.6M180.9 354.1h1.6" stroke="#222" stroke-width="0.4" fill="none"/>
<rect x="180.8" y="356.3" width="1.8" height="1.8" fill="#222"/>
<path d="M192.1 353.3V345.5M191.3 353.3h1.6M191.3 345.5h1.6" stroke="#222" stroke-width="0.4" fill="none"/>
<rect x="191.2" y="348.5" width="1.8" height="1.8" fill="#222"/>
<path d="M207.7 340.9V333.2M206.9 340.9h1.6M206.9 333.2h1.6" stroke="#222" stroke-width="0.4" fill="none"/>
<rect x="206.8" y="336.1" width="1.8" height="1.8" fill="#222"/>
<path d="M223.3 325.4V316.1M222.5 325.4h1.6M222.5 316.1h1.6" stroke="#222" stroke-width="0.4" fill="none"/>
<rect x="222.4" y="319.9" width="1.8" height="1.8" fill="#222"/>
<path d="M155.7,365.7 L171.3,360.2 L181.7,356.4 L192.1,344.0 L207.7,340.1 L223.3,322.3" fill="none" stroke="#f02020" stroke-width="0.6"/>
<path d="M155.7 366.8V364.5M154.9 366.8h1.6M154.9 364.5h1.6" stroke="#f02020" stroke-width="0.4" fill="none"/>
<circle cx="155.7" cy="365.7" r="0.9" fill="#f02020"/>
<path d="M171.3 364.1V356.4M170.5 364.1h1.6M170.5 356.4h1.6" stroke="#f02020" stroke-width="0.4" fill="none"/>
<circle cx="171.3" cy="360.2" r="0.9" fill="#f02020"/>
<path d="M181.7 358.7V354.1M180.9 358.7h1.6M180.9 354.1h1.6" stroke="#f02020" stroke-width="0.4" fill="none"/>
<circle cx="181.7" cy="356.4" r="0.9" fill="#f02020"/>
<path d="M192.1 347.1V340.9M191.3 347.1h1.6M191.3 340.9h1.6" stroke="#f02020" stroke-width="0.4" fill="none"/>
<circle cx="192.1" cy="344.0" r="0.9" fill="#f02020"/>
<path d="M207.7 342.4V337.8M206.9 342.4h1.6M206.9 337.8h1.6" stroke="#f02020" stroke-width="0.4" fill="none"/>
<circle cx="207.7" cy="340.1" r="0.9" fill="#f02020"/>
<path d="M223.3 326.2V318.5M222.5 326.2h1.6M222.5 318.5h1.6" stroke="#f02020" stroke-width="0.4" fill="none"/>
<circle cx="223.3" cy="322.3" r="0.9" fill="#f02020"/>
<path d="M155.7,365.7 L171.3,366.4 L181.7,359.5 L192.1,353.3 L207.7,345.5 L223.3,344.8" fill="none" stroke="#2040c0" stroke-width="0.6"/>
<path d="M155.7 367.2V364.1M154.9 367.2h1.6M154.9 364.1h1.6" stroke="#2040c0" stroke-width="0.4" fill="none"/>
<path d="M155.7 364.6L156.8 366.6L154.6 366.6Z" fill="#2040c0"/>
<path d="M171.3 369.5V363.3M170.5 369.5h1.6M170.5 363.3h1.6" stroke="#2040c0" stroke-width="0.4" fill="none"/>
<path d="M171.3 365.4L172.4 367.3L170.2 367.3Z" fill="#2040c0"/>
<path d="M181.7 364.1V354.8M180.9 364.1h1.6M180.9 354.8h1.6" stroke="#2040c0" stroke-width="0.4" fill="none"/>
<path d="M181.7 358.4L182.8 360.4L180.6 360.4Z" fill="#2040c0"/>
<path d="M192.1 359.5V347.1M191.3 359.5h1.6M191.3 347.1h1.6" stroke="#2040c0" stroke-width="0.4" fill="none"/>
<path d="M192.1 352.2L193.2 354.2L191.0 354.2Z" fill="#2040c0"/>
<path d="M207.7 347.9V343.2M206.9 347.9h1.6M206.9 343.2h1.6" stroke="#2040c0" stroke-width="0.4" fill="none"/>
<path d="M207.7 344.5L208.8 346.4L206.6 346.4Z" fill="#2040c0"/>
<path d="M223.3 347.9V341.7M222.5 347.9h1.6M222.5 341.7h1.6" stroke="#2040c0" stroke-width="0.4" fill="none"/>
<path d="M223.3 343.7L224.4 345.7L222.2 345.7Z" fill="#2040c0"/>
<path d="M155.7,365.7 L171.3,367.2 L181.7,367.2 L192.1,368.0 L207.7,366.4 L223.3,370.7" fill="none" stroke="#e040c0" stroke-width="0.6"/>
<path d="M155.7 366.4V364.9M154.9 366.4h1.6M154.9 364.9h1.6" stroke="#e040c0" stroke-width="0.4" fill="none"/>
<path d="M155.7 366.7L156.8 364.8L154.6 364.8Z" fill="#e040c0"/>
<path d="M171.3 368.8V365.7M170.5 368.8h1.6M170.5 365.7h1.6" stroke="#e040c0" stroke-width="0.4" fill="none"/>
<path d="M171.3 368.3L172.4 366.3L170.2 366.3Z" fill="#e040c0"/>
<path d="M181.7 369.5V364.9M180.9 369.5h1.6M180.9 364.9h1.6" stroke="#e040c0" stroke-width="0.4" fill="none"/>
<path d="M181.7 368.3L182.8 366.3L180.6 366.3Z" fill="#e040c0"/>
<path d="M192.1 371.1V364.9M191.3 371.1h1.6M191.3 364.9h1.6" stroke="#e040c0" stroke-width="0.4" fill="none"/>
<path d="M192.1 369.1L193.2 367.1L191.0 367.1Z" fill="#e040c0"/>
<path d="M207.7 368.8V364.1M206.9 368.8h1.6M206.9 364.1h1.6" stroke="#e040c0" stroke-width="0.4" fill="none"/>
<path d="M207.7 367.5L208.8 365.5L206.6 365.5Z" fill="#e040c0"/>
<path d="M223.3 371.5V369.9M222.5 371.5h1.6M222.5 369.9h1.6" stroke="#e040c0" stroke-width="0.4" fill="none"/>
<path d="M223.3 371.8L224.4 369.8L222.2 369.8Z" fill="#e040c0"/>
<line x1="156.2" y1="316.5" x2="163.1" y2="316.5" stroke="#222" stroke-width="0.6"/>
<rect x="158.7" y="315.6" width="1.8" height="1.8" fill="#222"/>
<text x="164.2" y="318.1" font-size="4.5" text-anchor="start" font-weight="normal" fill="#111" >Blank</text>
<line x1="156.2" y1="320.4" x2="163.1" y2="320.4" stroke="#f02020" stroke-width="0.6"/>
<circle cx="159.6" cy="320.4" r="0.9" fill="#f02020"/>
<text x="164.2" y="322.0" font-size="4.5" text-anchor="start" font-weight="normal" fill="#111" >PDT</text>
<line x1="156.2" y1="324.3" x2="163.1" y2="324.3" stroke="#2040c0" stroke-width="0.6"/>
<path d="M159.6 323.2L160.7 325.2L158.5 325.2Z" fill="#2040c0"/>
<text x="164.2" y="325.9" font-size="4.5" text-anchor="start" font-weight="normal" fill="#111" >PTT</text>
<line x1="156.2" y1="328.2" x2="163.1" y2="328.2" stroke="#e040c0" stroke-width="0.6"/>
<path d="M159.6 329.3L160.7 327.3L158.5 327.3Z" fill="#e040c0"/>
<text x="164.2" y="329.8" font-size="4.5" text-anchor="start" font-weight="normal" fill="#111" >PDT+PTT</text>
</svg></body></html>
